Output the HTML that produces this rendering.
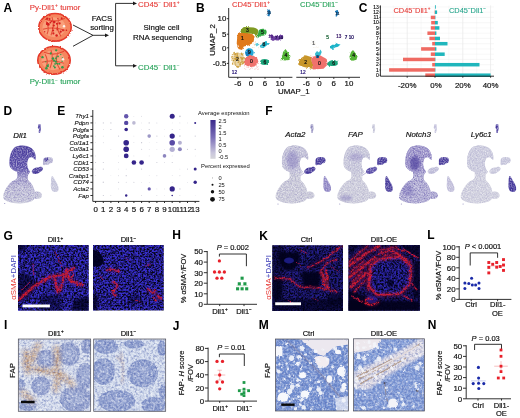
<!DOCTYPE html>
<html><head><meta charset="utf-8"><title>Figure</title>
<style>
html,body{margin:0;padding:0;background:#fff;}
body{width:520px;height:418px;overflow:hidden;}
svg{display:block;font-family:"Liberation Sans",Arial,sans-serif;}
.pl{font-weight:bold;font-size:12px;fill:#000}
.t7{font-size:7.9px;fill:#111;stroke:#111;stroke-width:.18px}
.t65{font-size:7.5px;fill:#111;stroke:#111;stroke-width:.18px}
.tt{font-size:7.5px;fill:#111;stroke:#111;stroke-width:.18px}
.it{font-style:italic}
.ax{stroke:#1a1a1a;stroke-width:.9;fill:none}
.sup{font-size:62%}
</style></head><body>
<svg width="520" height="418" viewBox="0 0 520 418">
<defs>
<filter id="fl" x="0" y="0" width="100%" height="100%" color-interpolation-filters="sRGB">
 <feTurbulence type="fractalNoise" baseFrequency="0.55" numOctaves="3" seed="3" result="n"/>
 <feColorMatrix in="n" type="matrix" values="0 0 0 0 0  0 0 0 0 0  2.6 0 0 0 -0.75  0 0 0 0 1" result="c"/>
 <feColorMatrix in="c" type="matrix" values="0 0 0.20 0 0.02  0 0 0.17 0 0.015  0 0 0.74 0 0.08  0 0 0 0 1"/>
</filter>
<filter id="fl2" x="0" y="0" width="100%" height="100%" color-interpolation-filters="sRGB">
 <feTurbulence type="fractalNoise" baseFrequency="0.57" numOctaves="3" seed="11" result="n"/>
 <feColorMatrix in="n" type="matrix" values="0 0 0 0 0  0 0 0 0 0  2.6 0 0 0 -0.75  0 0 0 0 1" result="c"/>
 <feColorMatrix in="c" type="matrix" values="0 0 0.20 0 0.02  0 0 0.17 0 0.015  0 0 0.74 0 0.08  0 0 0 0 1"/>
</filter>
<filter id="rag" x="-10%" y="-10%" width="120%" height="120%" color-interpolation-filters="sRGB">
 <feTurbulence type="fractalNoise" baseFrequency="0.3" numOctaves="2" seed="8" result="n"/>
 <feDisplacementMap in="SourceGraphic" in2="n" scale="3.5" xChannelSelector="R" yChannelSelector="G" result="d"/>
 <feTurbulence type="fractalNoise" baseFrequency="0.7" numOctaves="1" seed="2" result="n2"/>
 <feColorMatrix in="n2" type="matrix" values="0 0 0 0 1  0 0 0 0 1  0 0 0 0 1  3 0 0 0 -0.8" result="m"/>
 <feComposite in="d" in2="m" operator="in" result="dm"/>
 <feGaussianBlur in="dm" stdDeviation="0.5"/>
</filter>
<filter id="rough" x="-10%" y="-10%" width="120%" height="120%">
 <feTurbulence type="fractalNoise" baseFrequency="0.35" numOctaves="2" seed="4" result="n"/>
 <feDisplacementMap in="SourceGraphic" in2="n" scale="2.5" xChannelSelector="R" yChannelSelector="G"/>
</filter>
<filter id="b05"><feGaussianBlur stdDeviation="0.35"/></filter>
<filter id="b1"><feGaussianBlur stdDeviation="0.6"/></filter>
<filter id="b2"><feGaussianBlur stdDeviation="1.2"/></filter>
<filter id="b3"><feGaussianBlur stdDeviation="2.4"/></filter>
<filter id="ihc" x="0" y="0" width="100%" height="100%" color-interpolation-filters="sRGB">
 <feTurbulence type="fractalNoise" baseFrequency="0.45" numOctaves="3" seed="5" result="n"/>
 <feColorMatrix in="n" type="matrix" values="0 0 0 0 0.33  0 0 0 0 0.40  0 0 0 0 0.68  1.3 0 0 0 -0.5" result="dk"/>
 <feColorMatrix in="n" type="matrix" values="0 0 0 0 1  0 0 0 0 1  0 0 0 0 1  0 1.3 0 0 -0.52" result="lt"/>
 <feMerge><feMergeNode in="SourceGraphic"/><feMergeNode in="dk"/><feMergeNode in="lt"/></feMerge>
</filter>
<filter id="spk" x="-5%" y="-5%" width="110%" height="110%" color-interpolation-filters="sRGB">
 <feTurbulence type="fractalNoise" baseFrequency="0.8" numOctaves="2" seed="9" result="n"/>
 <feColorMatrix in="n" type="matrix" values="0 0 0 0 1  0 0 0 0 1  0 0 0 0 1  1.3 0 0 0 -0.52" result="w"/>
 <feComposite in="w" in2="SourceGraphic" operator="in" result="w2"/>
 <feMerge><feMergeNode in="SourceGraphic"/><feMergeNode in="w2"/></feMerge>
</filter>
<filter id="pspk" x="-5%" y="-5%" width="110%" height="110%" color-interpolation-filters="sRGB">
 <feTurbulence type="fractalNoise" baseFrequency="0.7" numOctaves="2" seed="21" result="n"/>
 <feColorMatrix in="n" type="matrix" values="0 0 0 0 0.30  0 0 0 0 0.24  0 0 0 0 0.62  3.2 0 0 0 -1.45" result="p"/>
 <feComposite in="p" in2="SourceGraphic" operator="in"/>
</filter>
<path id="body" d="M9.7,166 C9,160 9.5,152 15,147 C19,144.8 27,144.8 31.2,148 C34.5,150.5 36.5,155 35.5,160 L32.5,157.5 C30.5,156.5 28.3,157.5 27.7,160.5 C26.5,164 27.5,169 30.2,171.7 L28,175 L28,180 C30,182 32,184 32.5,185.5 C34,188 34.5,190 34.7,192 C38,190.8 42,192.5 42,195.4 C42,198 39,199.5 34.5,198.6 C33,201 31,201.6 30,201.8 C27,203.2 22,203.6 19.4,203.5 C15,203.5 11,203 8.6,201.8 C5,200.5 3.2,199 3.2,197.5 C3,195 3.5,193.5 4.3,192 C5.5,189 7.5,186 9.7,183.5 C11.5,181.5 13.5,180.5 15,179.9 C16.5,179 17.2,178 17.2,177 L17.2,171.7 C15,171.5 11,169.5 9.7,166 Z"/>
<path id="topc" d="M38.3,124.5 L40.6,124.3 L41,129 L40,133 L38.6,132.5 L39,129 L37.8,128 Z"/>
<path id="rc1" d="M43,160 C44,157 47,156.5 49,157.5 C51,156.5 53.5,158 53,161 C52.5,163 51,163.5 50,163 C49,165 47,165 45.5,164.5 C44,166 42.5,165 43,163 Z"/>
<path id="rc2" d="M32,170.5 C33.5,168 36,167 38,167.5 C40,166 42.5,166.5 43,168.5 C43,170.5 41,171.5 40,172 C38.5,174 35,174.5 33,173.5 C32,173 31.5,171.5 32,170.5Z"/>
<path id="rc3" d="M52,176 C53,175.5 54,178.5 55.5,181 C57.5,184 59,187 58.5,189.8 C58,192 55,192.5 53,191.5 C51,190 50.5,186 51,183 C51,180 51,177 52,176Z"/>
<clipPath id="cbody"><use href="#body"/></clipPath>
<linearGradient id="gD" x1="0" y1="146" x2="0" y2="203" gradientUnits="userSpaceOnUse">
 <stop offset="0" stop-color="#4b3e9c"/><stop offset="0.38" stop-color="#5a4ea8"/><stop offset="0.58" stop-color="#a29dca"/><stop offset="0.75" stop-color="#c2c1d8"/><stop offset="1" stop-color="#c8c8da"/>
</linearGradient>
<linearGradient id="gbar" x1="0" y1="0" x2="0" y2="1">
 <stop offset="0" stop-color="#3b2a8c"/><stop offset="0.45" stop-color="#7b6fb8"/><stop offset="0.85" stop-color="#c9c6dc"/><stop offset="1" stop-color="#d6d6da"/>
</linearGradient>
</defs>
<rect width="520" height="418" fill="#fff"/>

<g id="panelA">
<text class="pl" x="3.5" y="11.6">A</text>
<text x="55" y="9.8" text-anchor="middle" font-size="7.9" fill="#e63a36" stroke="#e63a36" stroke-width=".12">Py-Dll1<tspan class="sup" dy="-2.8">+</tspan><tspan dy="2.8"> tumor</tspan></text>
<text x="55" y="84.3" text-anchor="middle" font-size="7.9" fill="#27a35a" stroke="#27a35a" stroke-width=".12">Py-Dll1<tspan class="sup" dy="-2.8">−</tspan><tspan dy="2.8"> tumor</tspan></text>
<g filter="url(#rough)"><ellipse cx="55" cy="27.3" rx="16.2" ry="13.8" fill="#f5865e" stroke="#e53a2c" stroke-width="1.6"/></g>
<ellipse cx="54" cy="27.3" rx="11.5" ry="10" fill="#f9a884" opacity=".75"/>
<path d="M46,21.3 q4,6 1,13 M52,17.3 q3,8 -1,18 M59,19.3 q-4,9 2,17 M43,29.3 q10,-3 22,1 M45,19.3 q10,4 20,-1" stroke="#e2402c" stroke-width="1.1" fill="none" opacity=".85"/>
<circle cx="53.1" cy="30.5" r="1.06" fill="#d6201e"/>
<circle cx="63.0" cy="30.6" r="0.86" fill="#d6201e"/>
<circle cx="63.1" cy="29.9" r="0.63" fill="#d6201e"/>
<circle cx="52.6" cy="28.2" r="0.66" fill="#d6201e"/>
<circle cx="44.7" cy="31.8" r="0.69" fill="#d6201e"/>
<circle cx="56.6" cy="35.5" r="1.26" fill="#d6201e"/>
<circle cx="48.4" cy="24.4" r="1.28" fill="#d6201e"/>
<circle cx="66.4" cy="30.2" r="0.80" fill="#d6201e"/>
<circle cx="57.2" cy="29.7" r="0.82" fill="#d6201e"/>
<circle cx="56.9" cy="23.7" r="1.01" fill="#d6201e"/>
<circle cx="50.4" cy="22.6" r="0.98" fill="#d6201e"/>
<circle cx="57.2" cy="28.1" r="0.74" fill="#d6201e"/>
<circle cx="51.7" cy="21.3" r="0.82" fill="#d6201e"/>
<circle cx="48.1" cy="23.8" r="0.81" fill="#d6201e"/>
<circle cx="57.9" cy="18.8" r="0.77" fill="#d6201e"/>
<circle cx="47.1" cy="23.9" r="1.21" fill="#d6201e"/>
<circle cx="54.2" cy="22.1" r="1.29" fill="#d6201e"/>
<circle cx="60.7" cy="31.7" r="1.13" fill="#d6201e"/>
<circle cx="59.9" cy="33.1" r="0.63" fill="#d6201e"/>
<circle cx="49.6" cy="19.1" r="1.00" fill="#d6201e"/>
<circle cx="59.6" cy="23.4" r="1.09" fill="#d6201e"/>
<circle cx="47.2" cy="22.9" r="0.92" fill="#d6201e"/>
<circle cx="61.7" cy="18.3" r="0.93" fill="#d6201e"/>
<circle cx="53.8" cy="25.5" r="1.09" fill="#d6201e"/>
<circle cx="47.2" cy="18.6" r="1.18" fill="#d6201e"/>
<circle cx="53.4" cy="33.4" r="1.07" fill="#d6201e"/>
<circle cx="64" cy="26.3" r="1.2" fill="#fff" opacity=".85"/>
<g filter="url(#rough)"><ellipse cx="54" cy="60.3" rx="16.2" ry="13.8" fill="#f5865e" stroke="#e53a2c" stroke-width="1.6"/></g>
<ellipse cx="53" cy="60.3" rx="11.5" ry="10" fill="#f9a884" opacity=".75"/>
<path d="M45,54.3 q4,6 1,13 M51,50.3 q3,8 -1,18 M58,52.3 q-4,9 2,17 M42,62.3 q10,-3 22,1 M44,52.3 q10,4 20,-1" stroke="#e2402c" stroke-width="1.1" fill="none" opacity=".85"/>
<circle cx="62.1" cy="61.3" r="0.72" fill="#2f9a4a"/>
<circle cx="55.8" cy="61.7" r="1.14" fill="#2f9a4a"/>
<circle cx="57.9" cy="63.8" r="0.87" fill="#2f9a4a"/>
<circle cx="56.0" cy="58.5" r="0.91" fill="#2f9a4a"/>
<circle cx="42.5" cy="57.2" r="1.17" fill="#2f9a4a"/>
<circle cx="58.0" cy="56.4" r="0.89" fill="#2f9a4a"/>
<circle cx="46.4" cy="68.2" r="1.27" fill="#2f9a4a"/>
<circle cx="56.7" cy="63.5" r="0.76" fill="#2f9a4a"/>
<circle cx="54.9" cy="67.4" r="1.01" fill="#2f9a4a"/>
<circle cx="54.0" cy="60.7" r="0.89" fill="#2f9a4a"/>
<circle cx="47.7" cy="66.0" r="1.27" fill="#2f9a4a"/>
<circle cx="50.8" cy="53.4" r="1.03" fill="#2f9a4a"/>
<circle cx="53.0" cy="58.6" r="1.23" fill="#2f9a4a"/>
<circle cx="56.2" cy="50.3" r="1.16" fill="#2f9a4a"/>
<circle cx="48.2" cy="64.3" r="0.67" fill="#2f9a4a"/>
<circle cx="52.4" cy="58.7" r="0.65" fill="#2f9a4a"/>
<circle cx="55.1" cy="63.9" r="0.84" fill="#2f9a4a"/>
<circle cx="54.1" cy="60.3" r="0.71" fill="#2f9a4a"/>
<circle cx="59.7" cy="63.9" r="0.62" fill="#2f9a4a"/>
<circle cx="60.8" cy="54.5" r="0.70" fill="#2f9a4a"/>
<circle cx="53.9" cy="66.1" r="0.85" fill="#2f9a4a"/>
<circle cx="62.4" cy="67.3" r="1.30" fill="#2f9a4a"/>
<circle cx="45.8" cy="61.8" r="0.66" fill="#2f9a4a"/>
<circle cx="59.5" cy="63.8" r="0.79" fill="#2f9a4a"/>
<circle cx="56.1" cy="57.1" r="0.62" fill="#2f9a4a"/>
<circle cx="62.4" cy="58.0" r="0.70" fill="#2f9a4a"/>
<circle cx="63" cy="59.3" r="1.2" fill="#fff" opacity=".85"/>
<path d="M73,25 L93,35.3 L73,46.3 M93,35.3 L106,35.3" class="ax" stroke-width=".95"/>
<path d="M109,35.3 l-4,-1.9 v3.8z" fill="#1a1a1a"/>
<text class="t7" x="102" y="20.8" text-anchor="middle">FACS</text>
<text class="t7" x="102" y="29.6" text-anchor="middle">sorting</text>
<path d="M134,3.4 H115.6 V65.8 H134" class="ax" stroke-width=".95"/>
<path d="M137,3.4 l-4,-1.9 v3.8z M137,65.8 l-4,-1.9 v3.8z" fill="#1a1a1a"/>
<text x="138" y="7.2" font-size="7.9" fill="#e63a36" stroke="#e63a36" stroke-width=".12">CD45<tspan class="sup" dy="-2.8">−</tspan><tspan dy="2.8"> Dll1</tspan><tspan class="sup" dy="-2.8">+</tspan></text>
<text x="138" y="69.6" font-size="7.9" fill="#27a35a" stroke="#27a35a" stroke-width=".12">CD45<tspan class="sup" dy="-2.8">−</tspan><tspan dy="2.8"> Dll1</tspan><tspan class="sup" dy="-2.8">−</tspan></text>
<text class="t7" x="161.5" y="29.8" text-anchor="middle">Single cell</text>
<text class="t7" x="162.5" y="40.4" text-anchor="middle">RNA sequencing</text>
</g>
<g id="panelB">
<text class="pl" x="196" y="11.6">B</text>
<text x="232" y="6.8" font-size="7.6" fill="#e63a36" stroke="#e63a36" stroke-width=".12">CD45<tspan class="sup" dy="-2.8">−</tspan><tspan dy="2.8">Dll1</tspan><tspan class="sup" dy="-2.8">+</tspan></text>
<text x="300" y="6.8" font-size="7.6" fill="#27a35a" stroke="#27a35a" stroke-width=".12">CD45<tspan class="sup" dy="-2.8">−</tspan><tspan dy="2.8">Dll1</tspan><tspan class="sup" dy="-2.8">−</tspan></text>
<text class="t7" transform="translate(215.2,40) rotate(-90)" text-anchor="middle">UMAP_2</text>
<path d="M228.7,8 V77.3 H292.4 M296.3,77.3 H360" class="ax"/>
<text class="t7" x="226.3" y="21.4" text-anchor="end">10</text>
<path d="M226.9,18.7 h1.8" class="ax" stroke-width=".6"/>
<text class="t7" x="226.3" y="36.900000000000006" text-anchor="end">5</text>
<path d="M226.9,34.2 h1.8" class="ax" stroke-width=".6"/>
<text class="t7" x="226.3" y="50.5" text-anchor="end">0</text>
<path d="M226.9,47.8 h1.8" class="ax" stroke-width=".6"/>
<text class="t7" x="226.3" y="66.1" text-anchor="end">-0.5</text>
<path d="M226.9,63.4 h1.8" class="ax" stroke-width=".6"/>
<text class="t7" x="237.8" y="86.3" text-anchor="middle">-6</text>
<path d="M237.8,77.3 v1.6" class="ax" stroke-width=".55"/>
<text class="t7" x="251" y="86.3" text-anchor="middle">0</text>
<path d="M251,77.3 v1.6" class="ax" stroke-width=".55"/>
<text class="t7" x="265" y="86.3" text-anchor="middle">6</text>
<path d="M265,77.3 v1.6" class="ax" stroke-width=".55"/>
<text class="t7" x="280" y="86.3" text-anchor="middle">10</text>
<path d="M280,77.3 v1.6" class="ax" stroke-width=".55"/>
<text class="t7" x="306.3" y="86.3" text-anchor="middle">-6</text>
<path d="M306.3,77.3 v1.6" class="ax" stroke-width=".55"/>
<text class="t7" x="319.5" y="86.3" text-anchor="middle">0</text>
<path d="M319.5,77.3 v1.6" class="ax" stroke-width=".55"/>
<text class="t7" x="333.8" y="86.3" text-anchor="middle">6</text>
<path d="M333.8,77.3 v1.6" class="ax" stroke-width=".55"/>
<text class="t7" x="349" y="86.3" text-anchor="middle">10</text>
<path d="M349,77.3 v1.6" class="ax" stroke-width=".55"/>
<text class="t7" x="293.8" y="93.9" text-anchor="middle">UMAP_1</text>
<g filter="url(#rough)">
<path d="M237.9,33.7 L241.2,32 L252,33.7 L254.6,36.4 L253.7,41 L252,43.6 L248.3,45.4 L243.8,46.6 L242,50 L238.5,49 L236.7,43.6 L237.2,37.3Z" fill="#e07a1c"/>
<path d="M240.3,32 C241,29 243,27 244.7,27 L253.7,27.4 C256,28 258,29 258.2,30.5 C258,33 257.5,36 256.5,38 L254.5,34 L250,33.6 L241,32.8Z" fill="#7f9a22"/>
<path d="M258.5,31 C259.5,28.5 264,28 266,30 C267.5,32 266.5,35 264,35.5 C262,36 260.5,35.5 259.5,36.5 L257.5,38.5 L257.8,35Z" fill="#33a843"/>
<path d="M269,35 L272,34.3 L274,36.5 L277,35.5 L279,36.5 L281,35.2 L283.3,36.5 L283,39 L280,39.5 L278,40.8 L275,40 L273,41 L270.5,39.5 L271,37.5Z" fill="#6d3fa0"/>
<path d="M260,45.5 L263,43.5 L265,41.5 L266.8,41 L267,43 L269,43.5 L266,46 L263.5,48 L260.3,47.6Z" fill="#1fb3c9"/>
<path d="M283,52 L285.5,49 L288,52.5 L290.5,56 L289,60 L285,60.6 L282,60 L280.8,57 L282.5,55Z" fill="#55b536"/>
<path d="M267.3,10 l2.4,-.5 1,3.3 -1.4,3.6 -2,-.6 1,-3z" fill="#1f79b8"/>
<ellipse cx="249.4" cy="52.6" rx="4.3" ry="4.4" fill="#22a6d8"/>
<path d="M245.5,52 l3,-3.5 2,1 -1.5,6 -3,.5z" fill="#1d7ec0"/>
<ellipse cx="251" cy="61.3" rx="7.2" ry="5.7" fill="#f0716c"/>
<ellipse cx="264.6" cy="62" rx="4.5" ry="3" fill="#1ea57c"/>
<path d="M255,44 l3,-1.5 1.5,2 -3,2z" fill="#1fb3c9" opacity=".7"/>
</g>
<g filter="url(#rough)"><ellipse cx="238.3" cy="59.5" rx="6" ry="7" fill="#c8962a" opacity=".4"/></g>
<circle cx="243.8" cy="62.5" r="0.63" fill="#c8962a" opacity=".8"/>
<circle cx="232.7" cy="63.9" r="0.84" fill="#c8962a" opacity=".8"/>
<circle cx="235.3" cy="54.0" r="0.94" fill="#c8962a" opacity=".8"/>
<circle cx="243.1" cy="63.3" r="0.71" fill="#c8962a" opacity=".8"/>
<circle cx="233.5" cy="54.1" r="0.55" fill="#c8962a" opacity=".8"/>
<circle cx="240.0" cy="66.2" r="0.69" fill="#c8962a" opacity=".8"/>
<circle cx="240.4" cy="64.4" r="0.78" fill="#c8962a" opacity=".8"/>
<circle cx="242.0" cy="58.6" r="0.84" fill="#c8962a" opacity=".8"/>
<circle cx="241.6" cy="53.1" r="0.53" fill="#c8962a" opacity=".8"/>
<circle cx="235.6" cy="59.9" r="0.46" fill="#c8962a" opacity=".8"/>
<circle cx="238.4" cy="66.8" r="0.89" fill="#c8962a" opacity=".8"/>
<circle cx="243.2" cy="53.8" r="0.60" fill="#c8962a" opacity=".8"/>
<circle cx="233.8" cy="60.6" r="0.66" fill="#c8962a" opacity=".8"/>
<circle cx="235.7" cy="58.2" r="0.90" fill="#c8962a" opacity=".8"/>
<circle cx="236.7" cy="66.5" r="0.72" fill="#c8962a" opacity=".8"/>
<circle cx="237.0" cy="53.3" r="0.85" fill="#c8962a" opacity=".8"/>
<circle cx="232.8" cy="58.5" r="0.73" fill="#c8962a" opacity=".8"/>
<circle cx="235.2" cy="59.3" r="0.84" fill="#c8962a" opacity=".8"/>
<circle cx="231.7" cy="60.1" r="0.59" fill="#c8962a" opacity=".8"/>
<circle cx="242.4" cy="59.1" r="0.83" fill="#c8962a" opacity=".8"/>
<circle cx="244.6" cy="58.0" r="0.70" fill="#c8962a" opacity=".8"/>
<circle cx="238.2" cy="62.5" r="0.72" fill="#c8962a" opacity=".8"/>
<circle cx="237.6" cy="66.9" r="0.89" fill="#c8962a" opacity=".8"/>
<circle cx="231.9" cy="58.0" r="0.57" fill="#c8962a" opacity=".8"/>
<circle cx="232.5" cy="62.9" r="0.52" fill="#c8962a" opacity=".8"/>
<circle cx="236.9" cy="59.3" r="0.55" fill="#c8962a" opacity=".8"/>
<circle cx="235.1" cy="63.0" r="0.73" fill="#c8962a" opacity=".8"/>
<circle cx="235.3" cy="61.2" r="0.48" fill="#c8962a" opacity=".8"/>
<circle cx="242.5" cy="54.9" r="0.66" fill="#c8962a" opacity=".8"/>
<circle cx="239.1" cy="62.6" r="0.48" fill="#c8962a" opacity=".8"/>
<circle cx="241.0" cy="57.7" r="0.92" fill="#c8962a" opacity=".8"/>
<circle cx="240.2" cy="64.4" r="0.88" fill="#c8962a" opacity=".8"/>
<circle cx="237.3" cy="56.1" r="0.91" fill="#c8962a" opacity=".8"/>
<circle cx="234.3" cy="52.3" r="0.57" fill="#c8962a" opacity=".8"/>
<circle cx="235.0" cy="55.5" r="0.59" fill="#c8962a" opacity=".8"/>
<circle cx="238.0" cy="53.2" r="0.46" fill="#c8962a" opacity=".8"/>
<circle cx="241.7" cy="59.9" r="0.69" fill="#c8962a" opacity=".8"/>
<circle cx="243.1" cy="57.8" r="0.87" fill="#c8962a" opacity=".8"/>
<circle cx="236.3" cy="59.1" r="0.94" fill="#c8962a" opacity=".8"/>
<circle cx="235.5" cy="65.0" r="0.77" fill="#c8962a" opacity=".8"/>
<circle cx="236.5" cy="56.3" r="0.51" fill="#c8962a" opacity=".8"/>
<circle cx="234.1" cy="52.9" r="0.87" fill="#c8962a" opacity=".8"/>
<circle cx="243.9" cy="62.1" r="0.57" fill="#c8962a" opacity=".8"/>
<circle cx="234.7" cy="58.3" r="0.67" fill="#c8962a" opacity=".8"/>
<circle cx="235.0" cy="56.4" r="0.64" fill="#c8962a" opacity=".8"/>
<circle cx="237.6" cy="59.0" r="0.70" fill="#c8962a" opacity=".8"/>
<circle cx="231.4" cy="57.2" r="0.46" fill="#c8962a" opacity=".8"/>
<circle cx="234.9" cy="54.2" r="0.71" fill="#c8962a" opacity=".8"/>
<circle cx="242.0" cy="61.8" r="0.89" fill="#c8962a" opacity=".8"/>
<circle cx="232.4" cy="63.0" r="0.47" fill="#c8962a" opacity=".8"/>
<circle cx="240.0" cy="63.2" r="0.52" fill="#c8962a" opacity=".8"/>
<circle cx="238.4" cy="59.1" r="0.85" fill="#c8962a" opacity=".8"/>
<circle cx="240.9" cy="62.5" r="0.47" fill="#c8962a" opacity=".8"/>
<circle cx="232.1" cy="56.5" r="0.87" fill="#c8962a" opacity=".8"/>
<circle cx="238.9" cy="61.3" r="0.79" fill="#c8962a" opacity=".8"/>
<circle cx="242.8" cy="63.5" r="0.72" fill="#c8962a" opacity=".8"/>
<circle cx="241.8" cy="54.5" r="0.58" fill="#c8962a" opacity=".8"/>
<circle cx="241.7" cy="53.7" r="0.94" fill="#c8962a" opacity=".8"/>
<circle cx="237.9" cy="56.9" r="0.79" fill="#c8962a" opacity=".8"/>
<circle cx="242.3" cy="61.1" r="0.49" fill="#c8962a" opacity=".8"/>
<circle cx="232.4" cy="54.6" r="0.60" fill="#c8962a" opacity=".8"/>
<circle cx="240.8" cy="62.5" r="0.60" fill="#c8962a" opacity=".8"/>
<circle cx="238.3" cy="58.4" r="0.51" fill="#c8962a" opacity=".8"/>
<circle cx="237.2" cy="54.8" r="0.92" fill="#c8962a" opacity=".8"/>
<circle cx="233.4" cy="60.5" r="0.71" fill="#c8962a" opacity=".8"/>
<circle cx="254.6" cy="66.4" r=".4" fill="#f0716c" opacity=".7"/>
<circle cx="257.5" cy="67.4" r=".4" fill="#f0716c" opacity=".7"/>
<circle cx="244.4" cy="65.5" r=".4" fill="#f0716c" opacity=".7"/>
<circle cx="251.4" cy="67.3" r=".4" fill="#f0716c" opacity=".7"/>
<circle cx="248.5" cy="66.1" r=".4" fill="#f0716c" opacity=".7"/>
<circle cx="249.2" cy="66.8" r=".4" fill="#f0716c" opacity=".7"/>
<circle cx="256.6" cy="65.5" r=".4" fill="#f0716c" opacity=".7"/>
<circle cx="255.3" cy="68.9" r=".4" fill="#f0716c" opacity=".7"/>
<circle cx="245.8" cy="69.2" r=".4" fill="#f0716c" opacity=".7"/>
<circle cx="254.7" cy="69.1" r=".4" fill="#f0716c" opacity=".7"/>
<circle cx="248.3" cy="67.0" r=".4" fill="#f0716c" opacity=".7"/>
<circle cx="249.9" cy="69.5" r=".4" fill="#f0716c" opacity=".7"/>
<circle cx="252.8" cy="66.9" r=".4" fill="#f0716c" opacity=".7"/>
<circle cx="250.4" cy="66.6" r=".4" fill="#f0716c" opacity=".7"/>
<circle cx="244.7" cy="65.9" r=".4" fill="#f0716c" opacity=".7"/>
<circle cx="256.5" cy="66.6" r=".4" fill="#f0716c" opacity=".7"/>
<circle cx="258.0" cy="66.5" r=".4" fill="#f0716c" opacity=".7"/>
<circle cx="248.0" cy="67.5" r=".4" fill="#f0716c" opacity=".7"/>
<circle cx="246.8" cy="67.0" r=".4" fill="#f0716c" opacity=".7"/>
<circle cx="258.3" cy="69.0" r=".4" fill="#f0716c" opacity=".7"/>
<circle cx="256.2" cy="68.0" r=".4" fill="#f0716c" opacity=".7"/>
<circle cx="257.7" cy="69.3" r=".4" fill="#f0716c" opacity=".7"/>
<circle cx="252.2" cy="68.4" r=".4" fill="#f0716c" opacity=".7"/>
<circle cx="244.7" cy="68.4" r=".4" fill="#f0716c" opacity=".7"/>
<circle cx="250.8" cy="68.5" r=".4" fill="#f0716c" opacity=".7"/>
<circle cx="253.7" cy="66.6" r=".4" fill="#f0716c" opacity=".7"/>
<circle cx="252.4" cy="47.4" r=".35" fill="#e07a1c" opacity=".6"/>
<circle cx="253.1" cy="43.8" r=".35" fill="#e07a1c" opacity=".6"/>
<circle cx="255.1" cy="42.4" r=".35" fill="#e07a1c" opacity=".6"/>
<circle cx="258.7" cy="47.8" r=".35" fill="#e07a1c" opacity=".6"/>
<circle cx="254.3" cy="45.2" r=".35" fill="#e07a1c" opacity=".6"/>
<circle cx="254.7" cy="44.5" r=".35" fill="#e07a1c" opacity=".6"/>
<circle cx="255.5" cy="41.3" r=".35" fill="#e07a1c" opacity=".6"/>
<circle cx="253.5" cy="41.7" r=".35" fill="#e07a1c" opacity=".6"/>
<circle cx="260.2" cy="44.0" r=".35" fill="#e07a1c" opacity=".6"/>
<circle cx="254.0" cy="47.3" r=".35" fill="#e07a1c" opacity=".6"/>
<circle cx="261.0" cy="43.6" r=".35" fill="#e07a1c" opacity=".6"/>
<circle cx="253.3" cy="41.5" r=".35" fill="#e07a1c" opacity=".6"/>
<circle cx="252.8" cy="42.7" r=".35" fill="#e07a1c" opacity=".6"/>
<circle cx="252.8" cy="41.9" r=".35" fill="#e07a1c" opacity=".6"/>
<circle cx="254.3" cy="44.6" r=".35" fill="#e07a1c" opacity=".6"/>
<circle cx="260.0" cy="46.0" r=".35" fill="#e07a1c" opacity=".6"/>
<text x="247.5" y="31.8" font-size="5.0" fill="#111" stroke="#111" stroke-width=".22" text-anchor="middle">3</text>
<text x="242.5" y="40.3" font-size="5.0" fill="#111" stroke="#111" stroke-width=".22" text-anchor="middle">1</text>
<text x="262.5" y="33.8" font-size="5.0" fill="#111" stroke="#111" stroke-width=".22" text-anchor="middle">5</text>
<text x="237.3" y="61.3" font-size="5.0" fill="#111" stroke="#111" stroke-width=".22" text-anchor="middle">2</text>
<text x="251.4" y="63" font-size="5.0" fill="#111" stroke="#111" stroke-width=".22" text-anchor="middle">0</text>
<text x="264.8" y="63.7" font-size="5.0" fill="#111" stroke="#111" stroke-width=".22" text-anchor="middle">6</text>
<text x="249.5" y="54.3" font-size="5.0" fill="#111" stroke="#111" stroke-width=".22" text-anchor="middle">9</text>
<text x="264" y="46.3" font-size="5.0" fill="#111" stroke="#111" stroke-width=".22" text-anchor="middle">8</text>
<text x="285.8" y="57" font-size="5.0" fill="#111" stroke="#111" stroke-width=".22" text-anchor="middle">4</text>
<text x="269" y="14" font-size="4.2" fill="#0d2a4a" stroke="#0d2a4a" stroke-width=".22" text-anchor="middle">11</text>
<text x="234.4" y="73.6" font-size="4.800000000000001" fill="#2a1a7a" stroke="#2a1a7a" stroke-width=".22" text-anchor="middle">12</text>
<text x="270.6" y="37.6" font-size="4.4" fill="#4a1a7a" stroke="#4a1a7a" stroke-width=".22" text-anchor="middle">13</text>
<text x="279" y="39.4" font-size="4.2" fill="#1a0a4a" stroke="#1a0a4a" stroke-width=".22" text-anchor="middle">7 10</text>
<g filter="url(#rough)">
<path d="M298.4,59.7 L305.6,55.3 L311.2,57 L312.9,68.9 L303.8,67 L298.4,65Z" fill="#c8962a"/>
<path d="M311,57 L320,55.3 L326.2,58.8 L328,64.2 L323.5,68.7 L312.8,69.6Z" fill="#f0716c"/>
<path d="M327,64 C328.5,61 332,59.5 335,60.2 C337.5,60.8 338.5,63 337.5,64.8 C336,66.3 332,66.3 330,65.8 C328.5,66 327.2,65.3 327,64Z" fill="#1ea57c"/>
<path d="M351,52 L353,50 L355,52.5 L357.6,56 L356.5,59.8 L353,60.8 L350,59.8 L349.5,56.5Z" fill="#55b536"/>
<path d="M330,46.5 L332.5,44.5 L334.5,45 L336.5,43 L338,44 L340.5,44.5 L338,46.8 L335,47.5 L333,49 L330.5,48.5Z" fill="#1fb3c9"/>
<path d="M315,53.5 L317,51 L319,52.5 L320.5,49.5 L321.7,52 L320.5,55 L318,56.8 L315.5,56Z" fill="#1fb3c9" opacity=".9"/>
<path d="M335.6,10.5 l2.2,-.4 .9,3 -1.3,3.6 -1.9,-.5 .9,-3z" fill="#1f79b8"/>
</g>
<path d="M316.2,55.5 h2.6 v2.6 h-2.6z" fill="#1d7ec0"/>
<circle cx="314.7" cy="43.3" r=".3" fill="#d9c9a0" opacity=".8"/>
<circle cx="315.7" cy="43.0" r=".3" fill="#d9c9a0" opacity=".8"/>
<circle cx="314.0" cy="40.5" r=".3" fill="#d9c9a0" opacity=".8"/>
<circle cx="313.5" cy="47.7" r=".3" fill="#d9c9a0" opacity=".8"/>
<circle cx="312.1" cy="44.0" r=".3" fill="#d9c9a0" opacity=".8"/>
<circle cx="316.7" cy="46.9" r=".3" fill="#d9c9a0" opacity=".8"/>
<circle cx="312.9" cy="42.2" r=".3" fill="#d9c9a0" opacity=".8"/>
<circle cx="313.2" cy="43.2" r=".3" fill="#d9c9a0" opacity=".8"/>
<circle cx="315.0" cy="47.6" r=".3" fill="#d9c9a0" opacity=".8"/>
<circle cx="318.6" cy="47.0" r=".3" fill="#d9c9a0" opacity=".8"/>
<circle cx="311.2" cy="40.3" r=".3" fill="#d9c9a0" opacity=".8"/>
<circle cx="317.4" cy="47.2" r=".3" fill="#d9c9a0" opacity=".8"/>
<circle cx="315.3" cy="44.7" r=".3" fill="#d9c9a0" opacity=".8"/>
<circle cx="311.0" cy="43.1" r=".3" fill="#d9c9a0" opacity=".8"/>
<text x="305.6" y="64.3" font-size="5.0" fill="#111" stroke="#111" stroke-width=".22" text-anchor="middle">2</text>
<text x="319.5" y="65" font-size="5.0" fill="#111" stroke="#111" stroke-width=".22" text-anchor="middle">0</text>
<text x="333.6" y="64.6" font-size="5.0" fill="#111" stroke="#111" stroke-width=".22" text-anchor="middle">6</text>
<text x="353.6" y="57.3" font-size="5.0" fill="#111" stroke="#111" stroke-width=".22" text-anchor="middle">4</text>
<text x="313.6" y="45.3" font-size="5.0" fill="#555" stroke="#555" stroke-width=".22" text-anchor="middle">1</text>
<text x="327.5" y="38.6" font-size="4.800000000000001" fill="#0d5a2a" stroke="#0d5a2a" stroke-width=".22" text-anchor="middle">5</text>
<text x="338.8" y="37.6" font-size="4.6000000000000005" fill="#3a1a6a" stroke="#3a1a6a" stroke-width=".22" text-anchor="middle">13</text>
<text x="349.3" y="39.3" font-size="4.6000000000000005" fill="#1a0a5a" stroke="#1a0a5a" stroke-width=".22" text-anchor="middle">7 10</text>
<text x="303" y="73.6" font-size="4.800000000000001" fill="#2a1a7a" stroke="#2a1a7a" stroke-width=".22" text-anchor="middle">12</text>
<text x="317.6" y="58.3" font-size="3.8" fill="#0d2a4a" stroke="#0d2a4a" stroke-width=".22" text-anchor="middle">9</text>
<text x="337.3" y="15" font-size="4.0" fill="#0d2a4a" stroke="#0d2a4a" stroke-width=".22" text-anchor="middle">11</text>
</g>
<g id="panelC">
<text class="pl" x="358.8" y="11.6">C</text>
<path d="M407.2,5.4 V76.2" stroke="#e2e2e2" stroke-width=".6"/>
<path d="M435,5.4 V76.2" stroke="#e2e2e2" stroke-width=".6"/>
<path d="M462.8,5.4 V76.2" stroke="#e2e2e2" stroke-width=".6"/>
<path d="M490.6,5.4 V76.2" stroke="#e2e2e2" stroke-width=".6"/>
<path d="M393.3,5.4 V76.2" stroke="#efefef" stroke-width=".4"/>
<path d="M421.1,5.4 V76.2" stroke="#efefef" stroke-width=".4"/>
<path d="M448.9,5.4 V76.2" stroke="#efefef" stroke-width=".4"/>
<path d="M476.7,5.4 V76.2" stroke="#efefef" stroke-width=".4"/>
<path d="M380.4,75.20 H494" stroke="#eaeaea" stroke-width=".4"/>
<path d="M380.4,69.95 H494" stroke="#eaeaea" stroke-width=".4"/>
<path d="M380.4,64.70 H494" stroke="#eaeaea" stroke-width=".4"/>
<path d="M380.4,59.45 H494" stroke="#eaeaea" stroke-width=".4"/>
<path d="M380.4,54.20 H494" stroke="#eaeaea" stroke-width=".4"/>
<path d="M380.4,48.95 H494" stroke="#eaeaea" stroke-width=".4"/>
<path d="M380.4,43.70 H494" stroke="#eaeaea" stroke-width=".4"/>
<path d="M380.4,38.45 H494" stroke="#eaeaea" stroke-width=".4"/>
<path d="M380.4,33.20 H494" stroke="#eaeaea" stroke-width=".4"/>
<path d="M380.4,27.95 H494" stroke="#eaeaea" stroke-width=".4"/>
<path d="M380.4,22.70 H494" stroke="#eaeaea" stroke-width=".4"/>
<path d="M380.4,17.45 H494" stroke="#eaeaea" stroke-width=".4"/>
<path d="M380.4,12.20 H494" stroke="#eaeaea" stroke-width=".4"/>
<path d="M380.4,6.95 H494" stroke="#eaeaea" stroke-width=".4"/>
<rect x="425.3" y="73.45" width="9.7" height="3.5" fill="#ef6a62"/>
<rect x="435.0" y="73.45" width="55.6" height="3.5" fill="#1fb6bc"/>
<text x="378.8" y="76.95" font-size="5" fill="#111" stroke="#111" stroke-width=".15" text-anchor="end">0</text>
<path d="M379.5,75.20 h.9" class="ax" stroke-width=".4"/>
<rect x="389.1" y="68.20" width="45.9" height="3.5" fill="#ef6a62"/>
<rect x="435.0" y="68.20" width="0.4" height="3.5" fill="#1fb6bc"/>
<text x="378.8" y="71.70" font-size="5" fill="#111" stroke="#111" stroke-width=".15" text-anchor="end">1</text>
<path d="M379.5,69.95 h.9" class="ax" stroke-width=".4"/>
<rect x="432.2" y="62.95" width="2.8" height="3.5" fill="#ef6a62"/>
<rect x="435.0" y="62.95" width="44.5" height="3.5" fill="#1fb6bc"/>
<text x="378.8" y="66.45" font-size="5" fill="#111" stroke="#111" stroke-width=".15" text-anchor="end">2</text>
<path d="M379.5,64.70 h.9" class="ax" stroke-width=".4"/>
<rect x="403.0" y="57.70" width="32.0" height="3.5" fill="#ef6a62"/>
<rect x="435.0" y="57.70" width="0.4" height="3.5" fill="#1fb6bc"/>
<text x="378.8" y="61.20" font-size="5" fill="#111" stroke="#111" stroke-width=".15" text-anchor="end">3</text>
<path d="M379.5,59.45 h.9" class="ax" stroke-width=".4"/>
<rect x="430.8" y="52.45" width="4.2" height="3.5" fill="#ef6a62"/>
<rect x="435.0" y="52.45" width="9.7" height="3.5" fill="#1fb6bc"/>
<text x="378.8" y="55.95" font-size="5" fill="#111" stroke="#111" stroke-width=".15" text-anchor="end">4</text>
<path d="M379.5,54.20 h.9" class="ax" stroke-width=".4"/>
<rect x="421.1" y="47.20" width="13.9" height="3.5" fill="#ef6a62"/>
<rect x="435.0" y="47.20" width="1.4" height="3.5" fill="#1fb6bc"/>
<text x="378.8" y="50.70" font-size="5" fill="#111" stroke="#111" stroke-width=".15" text-anchor="end">5</text>
<path d="M379.5,48.95 h.9" class="ax" stroke-width=".4"/>
<rect x="432.2" y="41.95" width="2.8" height="3.5" fill="#ef6a62"/>
<rect x="435.0" y="41.95" width="12.5" height="3.5" fill="#1fb6bc"/>
<text x="378.8" y="45.45" font-size="5" fill="#111" stroke="#111" stroke-width=".15" text-anchor="end">6</text>
<path d="M379.5,43.70 h.9" class="ax" stroke-width=".4"/>
<rect x="429.4" y="36.70" width="5.6" height="3.5" fill="#ef6a62"/>
<rect x="435.0" y="36.70" width="5.0" height="3.5" fill="#1fb6bc"/>
<text x="378.8" y="40.20" font-size="5" fill="#111" stroke="#111" stroke-width=".15" text-anchor="end">7</text>
<path d="M379.5,38.45 h.9" class="ax" stroke-width=".4"/>
<rect x="427.4" y="31.45" width="7.6" height="3.5" fill="#ef6a62"/>
<rect x="435.0" y="31.45" width="1.4" height="3.5" fill="#1fb6bc"/>
<text x="378.8" y="34.95" font-size="5" fill="#111" stroke="#111" stroke-width=".15" text-anchor="end">8</text>
<path d="M379.5,33.20 h.9" class="ax" stroke-width=".4"/>
<rect x="430.8" y="26.20" width="4.2" height="3.5" fill="#ef6a62"/>
<rect x="435.0" y="26.20" width="4.4" height="3.5" fill="#1fb6bc"/>
<text x="378.8" y="29.70" font-size="5" fill="#111" stroke="#111" stroke-width=".15" text-anchor="end">9</text>
<path d="M379.5,27.95 h.9" class="ax" stroke-width=".4"/>
<rect x="431.2" y="20.95" width="3.8" height="3.5" fill="#ef6a62"/>
<rect x="435.0" y="20.95" width="2.8" height="3.5" fill="#1fb6bc"/>
<text x="378.8" y="24.45" font-size="5" fill="#111" stroke="#111" stroke-width=".15" text-anchor="end">10</text>
<path d="M379.5,22.70 h.9" class="ax" stroke-width=".4"/>
<rect x="430.8" y="15.70" width="4.2" height="3.5" fill="#ef6a62"/>
<rect x="435.0" y="15.70" width="0.4" height="3.5" fill="#1fb6bc"/>
<text x="378.8" y="19.20" font-size="5" fill="#111" stroke="#111" stroke-width=".15" text-anchor="end">11</text>
<path d="M379.5,17.45 h.9" class="ax" stroke-width=".4"/>
<rect x="434.6" y="10.45" width="0.4" height="3.5" fill="#ef6a62"/>
<rect x="435.0" y="10.45" width="2.1" height="3.5" fill="#1fb6bc"/>
<text x="378.8" y="13.95" font-size="5" fill="#111" stroke="#111" stroke-width=".15" text-anchor="end">12</text>
<path d="M379.5,12.20 h.9" class="ax" stroke-width=".4"/>
<rect x="435.0" y="5.20" width="0.8" height="3.5" fill="#1fb6bc"/>
<text x="378.8" y="8.70" font-size="5" fill="#111" stroke="#111" stroke-width=".15" text-anchor="end">13</text>
<path d="M379.5,6.95 h.9" class="ax" stroke-width=".4"/>
<path d="M380.4,5.4 V76.2 H494" class="ax"/>
<text class="t7" x="407.2" y="87.8" text-anchor="middle">-20%</text>
<path d="M407.2,76.2 v1.5" class="ax" stroke-width=".55"/>
<text class="t7" x="436" y="87.8" text-anchor="middle">0%</text>
<path d="M435,76.2 v1.5" class="ax" stroke-width=".55"/>
<text class="t7" x="462.8" y="87.8" text-anchor="middle">20%</text>
<path d="M462.8,76.2 v1.5" class="ax" stroke-width=".55"/>
<text class="t7" x="490.6" y="87.8" text-anchor="middle">40%</text>
<path d="M490.6,76.2 v1.5" class="ax" stroke-width=".55"/>
<text x="393.5" y="12.6" font-size="7.4" fill="#e63a36" stroke="#e63a36" stroke-width=".1">CD45<tspan class="sup" dy="-2.8">−</tspan><tspan dy="2.8">Dll1</tspan><tspan class="sup" dy="-2.8">+</tspan></text>
<text x="449" y="12.6" font-size="7.4" fill="#25a58c" stroke="#25a58c" stroke-width=".1">CD45<tspan class="sup" dy="-2.8">−</tspan><tspan dy="2.8">Dll1</tspan><tspan class="sup" dy="-2.8">−</tspan></text>
</g>
<g id="panelD">
<text class="pl" x="3.5" y="115.2">D</text>
<text class="t7 it" x="13.3" y="137.8">Dll1</text>
<g filter="url(#spk)">
<use href="#body" fill="url(#gD)"/>
<use href="#topc" fill="#5a4ea8"/><use href="#rc1" fill="#b4b1d2"/><use href="#rc2" fill="#4b3e9c"/><use href="#rc3" fill="#c3c3da"/>
<path d="M44,158.5 l3.5,-1.2 1,3 -3.5,1.5z" fill="#4b3e9c"/>
</g>
<g filter="url(#pspk)" opacity=".35"><path d="M4,180 h34 v22 h-34z" clip-path="url(#cbody)" fill="#000"/></g>
<circle cx="4.7" cy="203.5" r=".6" fill="#9a96c4"/>
</g>
<g id="panelE">
<text class="pl" x="57.3" y="115.2">E</text>
<text class="it" x="89" y="118.4" font-size="6.2" fill="#111" stroke="#111" stroke-width=".1" text-anchor="end">Thy1</text>
<path d="M90.4,116.3 h2.4" class="ax" stroke-width=".55"/>
<text class="it" x="89" y="125.0" font-size="6.2" fill="#111" stroke="#111" stroke-width=".1" text-anchor="end">Pdpn</text>
<path d="M90.4,122.9 h2.4" class="ax" stroke-width=".55"/>
<text class="it" x="89" y="131.6" font-size="6.2" fill="#111" stroke="#111" stroke-width=".1" text-anchor="end">Pdgfa</text>
<path d="M90.4,129.5 h2.4" class="ax" stroke-width=".55"/>
<text class="it" x="89" y="138.2" font-size="6.2" fill="#111" stroke="#111" stroke-width=".1" text-anchor="end">Pdgfa</text>
<path d="M90.4,136.1 h2.4" class="ax" stroke-width=".55"/>
<text class="it" x="89" y="144.8" font-size="6.2" fill="#111" stroke="#111" stroke-width=".1" text-anchor="end">Col1a1</text>
<path d="M90.4,142.7 h2.4" class="ax" stroke-width=".55"/>
<text class="it" x="89" y="151.4" font-size="6.2" fill="#111" stroke="#111" stroke-width=".1" text-anchor="end">Col3a1</text>
<path d="M90.4,149.3 h2.4" class="ax" stroke-width=".55"/>
<text class="it" x="89" y="158.0" font-size="6.2" fill="#111" stroke="#111" stroke-width=".1" text-anchor="end">Ly6c1</text>
<path d="M90.4,155.9 h2.4" class="ax" stroke-width=".55"/>
<text class="it" x="89" y="164.6" font-size="6.2" fill="#111" stroke="#111" stroke-width=".1" text-anchor="end">CDk1</text>
<path d="M90.4,162.5 h2.4" class="ax" stroke-width=".55"/>
<text class="it" x="89" y="171.2" font-size="6.2" fill="#111" stroke="#111" stroke-width=".1" text-anchor="end">CD53</text>
<path d="M90.4,169.1 h2.4" class="ax" stroke-width=".55"/>
<text class="it" x="89" y="177.8" font-size="6.2" fill="#111" stroke="#111" stroke-width=".1" text-anchor="end">Crabp1</text>
<path d="M90.4,175.7 h2.4" class="ax" stroke-width=".55"/>
<text class="it" x="89" y="184.4" font-size="6.2" fill="#111" stroke="#111" stroke-width=".1" text-anchor="end">CD74</text>
<path d="M90.4,182.3 h2.4" class="ax" stroke-width=".55"/>
<text class="it" x="89" y="191.0" font-size="6.2" fill="#111" stroke="#111" stroke-width=".1" text-anchor="end">Acta2</text>
<path d="M90.4,188.9 h2.4" class="ax" stroke-width=".55"/>
<text class="it" x="89" y="197.6" font-size="6.2" fill="#111" stroke="#111" stroke-width=".1" text-anchor="end">Fap</text>
<path d="M90.4,195.5 h2.4" class="ax" stroke-width=".55"/>
<path d="M92.8,110 V201.4 H199.4" class="ax"/>
<path d="M95.6,201.4 v1.6" class="ax" stroke-width=".55"/>
<path d="M103.3,201.4 v1.6" class="ax" stroke-width=".55"/>
<path d="M110.9,201.4 v1.6" class="ax" stroke-width=".55"/>
<path d="M118.6,201.4 v1.6" class="ax" stroke-width=".55"/>
<path d="M126.2,201.4 v1.6" class="ax" stroke-width=".55"/>
<path d="M133.9,201.4 v1.6" class="ax" stroke-width=".55"/>
<path d="M141.6,201.4 v1.6" class="ax" stroke-width=".55"/>
<path d="M149.2,201.4 v1.6" class="ax" stroke-width=".55"/>
<path d="M156.9,201.4 v1.6" class="ax" stroke-width=".55"/>
<path d="M164.5,201.4 v1.6" class="ax" stroke-width=".55"/>
<path d="M172.2,201.4 v1.6" class="ax" stroke-width=".55"/>
<path d="M179.9,201.4 v1.6" class="ax" stroke-width=".55"/>
<path d="M187.5,201.4 v1.6" class="ax" stroke-width=".55"/>
<path d="M195.2,201.4 v1.6" class="ax" stroke-width=".55"/>
<text class="t7" x="95.6" y="211.9" text-anchor="middle">0</text>
<text class="t7" x="103.3" y="211.9" text-anchor="middle">1</text>
<text class="t7" x="110.9" y="211.9" text-anchor="middle">2</text>
<text class="t7" x="118.6" y="211.9" text-anchor="middle">3</text>
<text class="t7" x="126.2" y="211.9" text-anchor="middle">4</text>
<text class="t7" x="133.9" y="211.9" text-anchor="middle">5</text>
<text class="t7" x="141.6" y="211.9" text-anchor="middle">6</text>
<text class="t7" x="149.2" y="211.9" text-anchor="middle">7</text>
<text class="t7" x="156.9" y="211.9" text-anchor="middle">8</text>
<text class="t7" x="164.5" y="211.9" text-anchor="middle">9</text>
<text class="t7" x="172.2" y="211.9" text-anchor="middle">10</text>
<text class="t7" x="179.9" y="211.9" text-anchor="middle">11</text>
<text class="t7" x="187.5" y="211.9" text-anchor="middle">12</text>
<text class="t7" x="195.2" y="211.9" text-anchor="middle">13</text>
<circle cx="133.9" cy="116.3" r="0.33" fill="#c4c4d0"/>
<circle cx="141.6" cy="116.3" r="0.46" fill="#c4c4d0"/>
<circle cx="95.6" cy="122.9" r="0.47" fill="#c4c4d0"/>
<circle cx="103.3" cy="122.9" r="0.53" fill="#c4c4d0"/>
<circle cx="110.9" cy="122.9" r="0.58" fill="#c4c4d0"/>
<circle cx="141.6" cy="122.9" r="0.34" fill="#c4c4d0"/>
<circle cx="156.9" cy="122.9" r="0.49" fill="#c4c4d0"/>
<circle cx="172.2" cy="122.9" r="0.32" fill="#c4c4d0"/>
<circle cx="179.9" cy="122.9" r="0.47" fill="#c4c4d0"/>
<circle cx="187.5" cy="122.9" r="0.37" fill="#c4c4d0"/>
<circle cx="103.3" cy="129.5" r="0.39" fill="#c4c4d0"/>
<circle cx="110.9" cy="129.5" r="0.59" fill="#c4c4d0"/>
<circle cx="141.6" cy="129.5" r="0.37" fill="#c4c4d0"/>
<circle cx="149.2" cy="129.5" r="0.59" fill="#c4c4d0"/>
<circle cx="164.5" cy="129.5" r="0.31" fill="#c4c4d0"/>
<circle cx="172.2" cy="129.5" r="0.50" fill="#c4c4d0"/>
<circle cx="179.9" cy="129.5" r="0.38" fill="#c4c4d0"/>
<circle cx="95.6" cy="136.1" r="0.31" fill="#c4c4d0"/>
<circle cx="103.3" cy="136.1" r="0.43" fill="#c4c4d0"/>
<circle cx="118.6" cy="136.1" r="0.54" fill="#c4c4d0"/>
<circle cx="133.9" cy="136.1" r="0.36" fill="#c4c4d0"/>
<circle cx="156.9" cy="136.1" r="0.55" fill="#c4c4d0"/>
<circle cx="164.5" cy="136.1" r="0.37" fill="#c4c4d0"/>
<circle cx="195.2" cy="136.1" r="0.59" fill="#c4c4d0"/>
<circle cx="95.6" cy="142.7" r="0.36" fill="#c4c4d0"/>
<circle cx="103.3" cy="142.7" r="0.43" fill="#c4c4d0"/>
<circle cx="133.9" cy="142.7" r="0.42" fill="#c4c4d0"/>
<circle cx="141.6" cy="142.7" r="0.59" fill="#c4c4d0"/>
<circle cx="149.2" cy="142.7" r="0.32" fill="#c4c4d0"/>
<circle cx="156.9" cy="142.7" r="0.42" fill="#c4c4d0"/>
<circle cx="110.9" cy="149.3" r="0.36" fill="#c4c4d0"/>
<circle cx="141.6" cy="149.3" r="0.50" fill="#c4c4d0"/>
<circle cx="149.2" cy="149.3" r="0.41" fill="#c4c4d0"/>
<circle cx="156.9" cy="149.3" r="0.35" fill="#c4c4d0"/>
<circle cx="164.5" cy="149.3" r="0.38" fill="#c4c4d0"/>
<circle cx="187.5" cy="149.3" r="0.59" fill="#c4c4d0"/>
<circle cx="195.2" cy="149.3" r="0.59" fill="#c4c4d0"/>
<circle cx="95.6" cy="155.9" r="0.41" fill="#c4c4d0"/>
<circle cx="118.6" cy="155.9" r="0.31" fill="#c4c4d0"/>
<circle cx="133.9" cy="155.9" r="0.41" fill="#c4c4d0"/>
<circle cx="149.2" cy="155.9" r="0.41" fill="#c4c4d0"/>
<circle cx="172.2" cy="155.9" r="0.42" fill="#c4c4d0"/>
<circle cx="195.2" cy="155.9" r="0.31" fill="#c4c4d0"/>
<circle cx="95.6" cy="162.5" r="0.58" fill="#c4c4d0"/>
<circle cx="103.3" cy="162.5" r="0.52" fill="#c4c4d0"/>
<circle cx="118.6" cy="162.5" r="0.38" fill="#c4c4d0"/>
<circle cx="156.9" cy="162.5" r="0.51" fill="#c4c4d0"/>
<circle cx="164.5" cy="162.5" r="0.38" fill="#c4c4d0"/>
<circle cx="172.2" cy="162.5" r="0.53" fill="#c4c4d0"/>
<circle cx="95.6" cy="169.1" r="0.37" fill="#c4c4d0"/>
<circle cx="103.3" cy="169.1" r="0.59" fill="#c4c4d0"/>
<circle cx="118.6" cy="169.1" r="0.38" fill="#c4c4d0"/>
<circle cx="126.2" cy="169.1" r="0.45" fill="#c4c4d0"/>
<circle cx="141.6" cy="169.1" r="0.54" fill="#c4c4d0"/>
<circle cx="179.9" cy="169.1" r="0.40" fill="#c4c4d0"/>
<circle cx="187.5" cy="169.1" r="0.53" fill="#c4c4d0"/>
<circle cx="95.6" cy="175.7" r="0.36" fill="#c4c4d0"/>
<circle cx="110.9" cy="175.7" r="0.32" fill="#c4c4d0"/>
<circle cx="118.6" cy="175.7" r="0.47" fill="#c4c4d0"/>
<circle cx="126.2" cy="175.7" r="0.59" fill="#c4c4d0"/>
<circle cx="149.2" cy="175.7" r="0.33" fill="#c4c4d0"/>
<circle cx="156.9" cy="175.7" r="0.45" fill="#c4c4d0"/>
<circle cx="172.2" cy="175.7" r="0.37" fill="#c4c4d0"/>
<circle cx="179.9" cy="175.7" r="0.49" fill="#c4c4d0"/>
<circle cx="118.6" cy="182.3" r="0.55" fill="#c4c4d0"/>
<circle cx="126.2" cy="182.3" r="0.47" fill="#c4c4d0"/>
<circle cx="133.9" cy="182.3" r="0.52" fill="#c4c4d0"/>
<circle cx="141.6" cy="182.3" r="0.37" fill="#c4c4d0"/>
<circle cx="149.2" cy="182.3" r="0.35" fill="#c4c4d0"/>
<circle cx="172.2" cy="182.3" r="0.42" fill="#c4c4d0"/>
<circle cx="187.5" cy="182.3" r="0.37" fill="#c4c4d0"/>
<circle cx="118.6" cy="188.9" r="0.44" fill="#c4c4d0"/>
<circle cx="156.9" cy="188.9" r="0.39" fill="#c4c4d0"/>
<circle cx="164.5" cy="188.9" r="0.36" fill="#c4c4d0"/>
<circle cx="103.3" cy="195.5" r="0.56" fill="#c4c4d0"/>
<circle cx="110.9" cy="195.5" r="0.38" fill="#c4c4d0"/>
<circle cx="141.6" cy="195.5" r="0.48" fill="#c4c4d0"/>
<circle cx="156.9" cy="195.5" r="0.41" fill="#c4c4d0"/>
<circle cx="164.5" cy="195.5" r="0.36" fill="#c4c4d0"/>
<circle cx="179.9" cy="195.5" r="0.48" fill="#c4c4d0"/>
<circle cx="195.2" cy="195.5" r="0.30" fill="#c4c4d0"/>
<circle cx="126.2" cy="116.3" r="2.2" fill="#6456ad"/>
<circle cx="172.2" cy="116.3" r="2.5" fill="#35258a"/>
<circle cx="179.9" cy="116.3" r="0.9" fill="#cfcfd8"/>
<circle cx="126.2" cy="122.9" r="2.2" fill="#5446a2"/>
<circle cx="133.9" cy="122.9" r="1.8" fill="#bdbad4"/>
<circle cx="149.2" cy="122.9" r="0.7" fill="#cfcfd8"/>
<circle cx="195.2" cy="122.9" r="1.0" fill="#35258a"/>
<circle cx="126.2" cy="129.5" r="1.8" fill="#35258a"/>
<circle cx="149.2" cy="136.1" r="1.8" fill="#9d98c6"/>
<circle cx="172.2" cy="136.1" r="2.6" fill="#35258a"/>
<circle cx="179.9" cy="136.1" r="0.8" fill="#cfcfd8"/>
<circle cx="126.2" cy="142.7" r="2.8" fill="#35258a"/>
<circle cx="172.2" cy="142.7" r="2.8" fill="#5a4ca6"/>
<circle cx="179.9" cy="142.7" r="2.0" fill="#b5b1d2"/>
<circle cx="126.2" cy="149.3" r="2.8" fill="#35258a"/>
<circle cx="172.2" cy="149.3" r="2.6" fill="#b3afd3"/>
<circle cx="179.9" cy="149.3" r="2.0" fill="#8d86bf"/>
<circle cx="126.2" cy="155.9" r="2.4" fill="#35258a"/>
<circle cx="164.5" cy="155.9" r="1.8" fill="#8d86bf"/>
<circle cx="133.9" cy="162.5" r="2.3" fill="#35258a"/>
<circle cx="141.6" cy="162.5" r="2.3" fill="#35258a"/>
<circle cx="195.2" cy="169.1" r="1.5" fill="#35258a"/>
<circle cx="195.2" cy="182.3" r="1.7" fill="#35258a"/>
<circle cx="103.3" cy="182.3" r="0.7" fill="#cfcfd8"/>
<circle cx="149.2" cy="188.9" r="1.6" fill="#6456ad"/>
<circle cx="172.2" cy="188.9" r="2.6" fill="#35258a"/>
<circle cx="179.9" cy="188.9" r="0.7" fill="#cfcfd8"/>
<circle cx="126.2" cy="195.5" r="1.2" fill="#35258a"/>
<circle cx="172.2" cy="195.5" r="0.8" fill="#35258a"/>
<text x="198" y="114.9" font-size="5.85" fill="#111">Average expression</text>
<rect x="210.4" y="120" width="5.2" height="38.8" fill="url(#gbar)"/>
<text x="218.4" y="122.8" font-size="5.7" fill="#111">2.5</text>
<text x="218.4" y="128.8" font-size="5.7" fill="#111">2</text>
<text x="218.4" y="134.9" font-size="5.7" fill="#111">1.5</text>
<text x="218.4" y="140.9" font-size="5.7" fill="#111">1</text>
<text x="218.4" y="146.9" font-size="5.7" fill="#111">0.5</text>
<text x="218.4" y="152.9" font-size="5.7" fill="#111">0</text>
<text x="218.4" y="159.0" font-size="5.7" fill="#111">-0.5</text>
<text x="201" y="167.8" font-size="5.85" fill="#111">Percent expressed</text>
<circle cx="212.5" cy="177.9" r="0.35" fill="#111"/>
<text x="218.4" y="179.9" font-size="5.7" fill="#111">0</text>
<circle cx="212.5" cy="184.8" r="1.0" fill="#111"/>
<text x="218.4" y="186.8" font-size="5.7" fill="#111">25</text>
<circle cx="212.5" cy="191.7" r="1.7" fill="#111"/>
<text x="218.4" y="193.7" font-size="5.7" fill="#111">50</text>
<circle cx="212.5" cy="199.3" r="2.4" fill="#111"/>
<text x="218.4" y="201.3" font-size="5.7" fill="#111">75</text>
</g>
<g id="panelF">
<text class="pl" x="265.2" y="115.2">F</text>
<text class="t7 it" x="295.4" y="137.3" text-anchor="middle">Acta2</text>
<g transform="translate(272.5,0)"><g filter="url(#spk)">
<use href="#body" fill="#cacad8"/>
<g clip-path="url(#cbody)"><rect x="0" y="140" width="60" height="33" fill="#c4c3d8"/></g>
<use href="#topc" fill="#8f8bbd"/><use href="#rc1" fill="#46399a"/><use href="#rc2" fill="#46399a"/><use href="#rc3" fill="#8f86c4"/>
</g>
<g filter="url(#pspk)" opacity="0.2"><path d="M3,144 h40 v60 h-40z" clip-path="url(#cbody)" fill="#000"/></g>
<g clip-path="url(#cbody)" filter="url(#b2)"><ellipse cx="20" cy="160" rx="6" ry="9" fill="#6a5eb2" opacity=".35"/></g>
<path d="M28,175.5 L33,172" stroke="#46399a" stroke-width=".5" opacity=".7"/>
</g>
<circle cx="278.0" cy="204" r=".6" fill="#9a96c4"/>
<text class="t7 it" x="355.5" y="137.3" text-anchor="middle">FAP</text>
<g transform="translate(334.2,0)"><g filter="url(#spk)">
<use href="#body" fill="#cdcddb"/>
<g clip-path="url(#cbody)"><rect x="0" y="140" width="60" height="33" fill="#c8c8da"/></g>
<use href="#topc" fill="#c4c4d8"/><use href="#rc1" fill="#46399a"/><use href="#rc2" fill="#5a4ea8"/><use href="#rc3" fill="#4a3e9c"/>
</g>
<g filter="url(#pspk)" opacity="0.15"><path d="M3,144 h40 v60 h-40z" clip-path="url(#cbody)" fill="#000"/></g>
<g clip-path="url(#cbody)" filter="url(#b2)"><ellipse cx="22" cy="157" rx="7" ry="4" fill="#6a5eb2" opacity=".25"/><ellipse cx="12" cy="198" rx="6" ry="3" fill="#5a4ea8" opacity=".3"/></g>
<path d="M28,175.5 L33,172" stroke="#46399a" stroke-width=".5" opacity=".7"/>
</g>
<circle cx="339.7" cy="204" r=".6" fill="#9a96c4"/>
<text class="t7 it" x="418.3" y="137.3" text-anchor="middle">Notch3</text>
<g transform="translate(395.9,0)"><g filter="url(#spk)">
<use href="#body" fill="#b2aed4"/>
<g clip-path="url(#cbody)"><rect x="0" y="140" width="60" height="33" fill="#a199cc"/></g>
<use href="#topc" fill="#c3c1dc"/><use href="#rc1" fill="#4b3e9c"/><use href="#rc2" fill="#bdbbd8"/><use href="#rc3" fill="#bfbcd9"/>
</g>
<g filter="url(#pspk)" opacity="0.45"><path d="M3,144 h40 v60 h-40z" clip-path="url(#cbody)" fill="#000"/></g>
<g clip-path="url(#cbody)" filter="url(#b2)"><ellipse cx="19" cy="163" rx="5" ry="7" fill="#3f3296" opacity=".6"/><ellipse cx="12" cy="190" rx="5" ry="6" fill="#5a4ea8" opacity=".3"/></g>
</g>
<circle cx="401.4" cy="204" r=".6" fill="#9a96c4"/>
<text class="t7 it" x="481.2" y="137.3" text-anchor="middle">Ly6c1</text>
<g transform="translate(457.6,0)"><g filter="url(#spk)">
<use href="#body" fill="#d0d0de"/>
<g clip-path="url(#cbody)"><rect x="0" y="140" width="60" height="33" fill="#cbcbdd"/></g>
<use href="#topc" fill="#43369a"/><use href="#rc1" fill="#c4c3da"/><use href="#rc2" fill="#c8c7dc"/><use href="#rc3" fill="#43369a"/>
</g>
<g filter="url(#pspk)" opacity="0.12"><path d="M3,144 h40 v60 h-40z" clip-path="url(#cbody)" fill="#000"/></g>
<g clip-path="url(#cbody)" filter="url(#b2)"></g>
</g>
<circle cx="463.1" cy="204" r=".6" fill="#9a96c4"/>
</g>
<g id="panelG">
<text class="pl" x="3.4" y="239.5">G</text>
<text class="tt" x="55.5" y="242.3" text-anchor="middle">Dll1<tspan class="sup" dy="-2.8">+</tspan></text>
<text class="tt" x="128.5" y="242.3" text-anchor="middle">Dll1<tspan class="sup" dy="-2.8">−</tspan></text>
<text transform="translate(15.9,277.5) rotate(-90)" text-anchor="middle" font-size="7.9"><tspan fill="#e63a36">αSMA</tspan><tspan fill="#3535b5">+DAPI</tspan></text>
<g><clipPath id="c18_245"><rect x="18" y="245" width="70.8" height="65.8"/></clipPath>
<g clip-path="url(#c18_245)">
<rect x="18" y="245" width="70.8" height="65.8" filter="url(#fl)"/>
<path d="M18,274 C26,272 34,276 36,284 C34,294 26,300 18,302Z" fill="#03021a" opacity="0.6" filter="url(#b2)"/>
<path d="M74,300 L89,296 V311 H72Z" fill="#03021a" opacity="0.75" filter="url(#b2)"/>
<path d="M18,245 h10 l-3,5 -7,2z" fill="#03021a" opacity="0.7" filter="url(#b2)"/>
<path d="M40,296 L60,294 L62,311 L38,311Z" fill="#03021a" opacity="0.45" filter="url(#b2)"/>
<path d="M19.3,299 L35.7,285 L49.5,277.3 L65,274 L73.6,268 M65,274 L72,281.7 L82,285 M54.7,279 L58,292 M66.7,269.6 L59.8,290" stroke="#a81848" stroke-width="4.5" fill="none" stroke-linecap="round" opacity="0.35" filter="url(#b2)"/>
<g filter="url(#rag)">
<path d="M19.3,299 L35.7,285 L49.5,277.3 L65,274 L73.6,268 M65,274 L72,281.7 L82,285 M54.7,279 L58,292 M66.7,269.6 L59.8,290" stroke="#cc1a30" stroke-width="2.7" fill="none" stroke-linecap="round" stroke-linejoin="round"/>
<path d="M70,271 C73,270 75,273 73,276 C71,278 68,277 68,274" stroke="#d81c30" stroke-width="1.5" fill="none" stroke-linecap="round" stroke-linejoin="round"/>
<path d="M55,252 L62,266 M33,264 L34,275 M22,290 L30,282" stroke="#b81840" stroke-width="1" fill="none" stroke-linecap="round" stroke-linejoin="round"/>
</g>
</g></g>
<rect x="22.5" y="304.5" width="27.4" height="2.9" fill="#fff"/>
<g><clipPath id="c93_245"><rect x="93" y="245" width="70.8" height="65.5"/></clipPath>
<g clip-path="url(#c93_245)">
<rect x="93" y="245" width="70.8" height="65.5" filter="url(#fl2)"/>
<path d="M92.6,250 C98,249 104,256 103.5,262 C102,267 96,267 92.6,266Z" fill="#03021a" opacity="0.92" filter="url(#b1)"/>
<path d="M92.6,292 L98,296 L97,311 H92.6Z" fill="#03021a" opacity="0.8" filter="url(#b2)"/>
<path d="M128,296 l10,-2 4,8 -12,4z" fill="#03021a" opacity="0.4" filter="url(#b2)"/>
<path d="M107,270 L119,271 M113,282 L118,286 L113,292 L115,296 M148,290 L156,294 L160,298" stroke="#a81848" stroke-width="3.5" fill="none" stroke-linecap="round" opacity="0.3" filter="url(#b2)"/>
<g filter="url(#rag)">
<path d="M107,270 L112,269 L119,271.5" stroke="#d81c30" stroke-width="1.6" fill="none" stroke-linecap="round" stroke-linejoin="round"/>
<path d="M113,281.5 L118,285.5 L112.5,292 L115,295.5" stroke="#d81c30" stroke-width="1.8" fill="none" stroke-linecap="round" stroke-linejoin="round"/>
<path d="M148,289 L153,293 L156,291 M158,296 L161,299 M154,298 L156,301" stroke="#d81c30" stroke-width="2" fill="none" stroke-linecap="round" stroke-linejoin="round"/>
<path d="M126,258 l4,3 M100,276 l3,4 M136,300 l4,2 M146,266 l4,-2" stroke="#b81840" stroke-width="1" fill="none" stroke-linecap="round" stroke-linejoin="round"/>
</g>
</g></g>
</g>
<g id="panelH">
<text class="pl" x="172.3" y="238.8">H</text>
<path d="M207.2,251 V304.3 H257" class="ax" stroke-width=".9"/>
<text class="t7" x="203" y="254.4" text-anchor="end">50</text>
<path d="M203.8,251.6 h3.4" class="ax" stroke-width=".7"/>
<text class="t7" x="203" y="264.90000000000003" text-anchor="end">40</text>
<path d="M203.8,262.1 h3.4" class="ax" stroke-width=".7"/>
<text class="t7" x="203" y="275.5" text-anchor="end">30</text>
<path d="M203.8,272.7 h3.4" class="ax" stroke-width=".7"/>
<text class="t7" x="203" y="286.0" text-anchor="end">20</text>
<path d="M203.8,283.2 h3.4" class="ax" stroke-width=".7"/>
<text class="t7" x="203" y="296.6" text-anchor="end">10</text>
<path d="M203.8,293.8 h3.4" class="ax" stroke-width=".7"/>
<text class="t7" x="203" y="307.1" text-anchor="end">0</text>
<path d="M203.8,304.3 h3.4" class="ax" stroke-width=".7"/>
<text class="t65" transform="translate(186.4,278.5) rotate(-90)" text-anchor="middle">% αSMA<tspan class="sup" dy="-2.8">+</tspan><tspan dy="2.8">/FOV</tspan></text>
<text class="t65" x="232.8" y="249.6" text-anchor="middle"><tspan class="it">P</tspan> = 0.002</text>
<path d="M219.4,256.6 V254 H246.4 V266.2" class="ax" stroke-width=".8"/>
<path d="M213.5,272.6 h12.5" stroke="#f2a0a0" stroke-width=".5"/>
<path d="M236.5,285.7 h11.5" stroke="#9fd6ae" stroke-width=".5"/>
<circle cx="219.4" cy="260.9" r="1.65" fill="#e8202a"/>
<circle cx="214.5" cy="272" r="1.65" fill="#e8202a"/>
<circle cx="219.4" cy="272" r="1.65" fill="#e8202a"/>
<circle cx="224.4" cy="272" r="1.65" fill="#e8202a"/>
<circle cx="217" cy="278.2" r="1.65" fill="#e8202a"/>
<circle cx="221.8" cy="278.2" r="1.65" fill="#e8202a"/>
<rect x="240.55" y="276.65" width="3.1" height="3.1" fill="#1f9a4a"/>
<rect x="237.75" y="282.25" width="3.1" height="3.1" fill="#1f9a4a"/>
<rect x="243.35" y="282.25" width="3.1" height="3.1" fill="#1f9a4a"/>
<rect x="236.05" y="287.25" width="3.1" height="3.1" fill="#1f9a4a"/>
<rect x="240.55" y="287.25" width="3.1" height="3.1" fill="#1f9a4a"/>
<rect x="245.15" y="287.25" width="3.1" height="3.1" fill="#1f9a4a"/>
<path d="M219.7,304.3 v1.8 M244,304.3 v1.8" class="ax" stroke-width=".7"/>
<text class="t65" x="220" y="313.6" text-anchor="middle">Dll1<tspan class="sup" dy="-2.8">+</tspan></text>
<text class="t65" x="244" y="313.6" text-anchor="middle">Dll1<tspan class="sup" dy="-2.8">−</tspan></text>
</g>
<g id="panelK">
<text class="pl" x="259.3" y="239.5">K</text>
<text class="tt" x="306.5" y="242.3" text-anchor="middle">Ctrl</text>
<text class="tt" x="384" y="242.3" text-anchor="middle">Dll1-OE</text>
<text transform="translate(271,277.5) rotate(-90)" text-anchor="middle" font-size="7.9"><tspan fill="#e63a36">αSMA</tspan><tspan fill="#3535b5">+DAPI</tspan></text>
<g><clipPath id="c272_245"><rect x="272.3" y="245.2" width="70.7" height="65.8"/></clipPath>
<g clip-path="url(#c272_245)">
<rect x="272.3" y="245.2" width="70.7" height="65.8" filter="url(#fl2)"/>
<path d="M278.3,252 L299,252 C302,262 297,269 290,270.6 C283,271 278,264 278.3,252Z" fill="#03021a" opacity="0.9" filter="url(#b2)"/>
<path d="M301.5,272 L321,272 L319,288 L303,288Z" fill="#03021a" opacity="0.92" filter="url(#b2)"/>
<path d="M272.3,274 L283,278 L282,299 L272.3,300Z" fill="#03021a" opacity="0.85" filter="url(#b2)"/>
<path d="M272.3,299 H343 V311 H272.3Z" fill="#03021a" opacity="0.65" filter="url(#b2)"/>
<path d="M328,294 l15,-2 v12 h-16z" fill="#03021a" opacity="0.55" filter="url(#b2)"/>
<path d="M272.3,245.2 h12 v28 h-12z" fill="#03021a" opacity="0.45" filter="url(#b2)"/>
<path d="M306,262 l14,-6 4,8 -12,8z" fill="#03021a" opacity="0.4" filter="url(#b2)"/>
<rect x="272" y="245" width="72" height="66" fill="#03021a" opacity=".4"/>
<ellipse cx="289" cy="260.5" rx="5" ry="3" fill="#2626a8" opacity=".7" filter="url(#b1)"/>
<path d="M275,278 L290.5,279 L299,286.8 L319.7,287.7 L337,292 M307.7,268 L325,259.2 L333.5,252.3 L342,246 M320,273 L327,262.7 L337,259.2" stroke="#a81848" stroke-width="3" fill="none" stroke-linecap="round" opacity="0.25" filter="url(#b2)"/>
<path d="M321,273 L326,280 L328,287" stroke="#d02030" stroke-width="4.5" fill="none" stroke-linecap="round" opacity="0.45" filter="url(#b2)"/>
<g filter="url(#rag)">
<path d="M275,278 L290.5,279 L299,286.8 L319.7,287.7 L337,292 M307.7,268 L325,259.2 L333.5,252.3 L342,246 M320,273 L327,262.7 L337,259.2" stroke="#c81c34" stroke-width="1.4" fill="none" stroke-linecap="round" stroke-linejoin="round"/>
<path d="M321,272 L324,278 L323,284 L329,288 M326,270 L328,280" stroke="#d81c30" stroke-width="2.4" fill="none" stroke-linecap="round" stroke-linejoin="round"/>
<path d="M296,262 l6,5 M288,300 l5,3 M312,298 l6,3 M300,250 l8,4 M330,266 l8,6" stroke="#b81840" stroke-width="1" fill="none" stroke-linecap="round" stroke-linejoin="round"/>
</g>
</g></g>
<rect x="275.2" y="302.3" width="25.8" height="2.9" fill="#fff"/>
<g><clipPath id="c348_245"><rect x="348.4" y="245" width="71.5" height="65.8"/></clipPath>
<g clip-path="url(#c348_245)">
<rect x="348.4" y="245" width="71.5" height="65.8" filter="url(#fl)"/>
<path d="M348.4,290 L366,296 L368,311 H348.4Z" fill="#03021a" opacity="0.85" filter="url(#b2)"/>
<path d="M348.4,301 H420 V311 H348.4Z" fill="#03021a" opacity="0.9" filter="url(#b2)"/>
<path d="M400,245 H420 V258 L408,252Z" fill="#03021a" opacity="0.7" filter="url(#b2)"/>
<path d="M414,262 L420,262 V300 L413,296Z" fill="#03021a" opacity="0.75" filter="url(#b2)"/>
<path d="M349,245 h12 l-12,10z" fill="#03021a" opacity="0.5" filter="url(#b2)"/>
<path d="M348,245 H421 V311 H348Z M378,259.5 L369.5,268 L368.5,286 L377,295 L400,294 L410,284 L411,266 L400,256.5Z" fill="#03021a" opacity=".5" fill-rule="evenodd"/>
<path d="M379,261.5 L399.5,258.5 L409,267 L408,283 L399,292 L378,293 L370.5,285.5 L371.5,269Z" fill="#03021a" opacity=".18" filter="url(#b1)"/>
<ellipse cx="390.5" cy="283" rx="3.5" ry="3.2" fill="#03021a" opacity=".7" filter="url(#b1)"/>
<ellipse cx="372" cy="299.5" rx="5.5" ry="4" fill="#2a28c8" opacity=".45" filter="url(#b1)"/>
<path d="M349,266 L367,253 L379,246 M349,277.5 L361,268 L375,257.5 M351,287 L366.5,273" stroke="#b01838" stroke-width="4.5" fill="none" stroke-linecap="round" opacity="0.4" filter="url(#b2)"/>
<path d="M378,259.5 L400,256.5 L411,266 L410,284 L400,294 L377,295 L368.5,286 L369.5,268Z" stroke="#b01838" stroke-width="4.5" fill="none" stroke-linecap="round" opacity="0.35" filter="url(#b2)"/>
<path d="M378.5,254 L392,250 L409.5,262 M371,271 L368,290 M372,299 C368,297 365,300 366,303 C369,306 376,305 378,302" stroke="#a81848" stroke-width="4" fill="none" stroke-linecap="round" opacity="0.3" filter="url(#b2)"/>
<path d="M349,262 L360,252 L368,246 M350,272 L364,261 M352,282 L362,272 M354,292 L366,280 M380,250 L396,247 M384,256 L398,253" stroke="#b81838" stroke-width="3" fill="none" stroke-linecap="round" opacity="0.35" filter="url(#b2)"/>
<g filter="url(#rag)">
<path d="M378,259.5 L400,256.5 L411,266 L410,284 L400,294 L377,295 L368.5,286 L369.5,268Z" stroke="#d01c32" stroke-width="2.0" fill="none" stroke-linecap="round" stroke-linejoin="round"/>
<path d="M349,266 L367,253 L379,246 M349,277.5 L361,268 L375,257.5 M351,287 L366.5,273" stroke="#d01c32" stroke-width="2.4" fill="none" stroke-linecap="round" stroke-linejoin="round"/>
<path d="M378.5,254 L392,250 L409.5,262 M371,271 L368,290 M372,299 C368,297 365,300 366,303 C369,306 376,305 378,302" stroke="#d81c30" stroke-width="1.8" fill="none" stroke-linecap="round" stroke-linejoin="round"/>
<path d="M349,262 L360,252 L368,246 M350,272 L364,261 M352,282 L362,272 M354,292 L366,280 M380,250 L396,247 M384,256 L398,253" stroke="#c81c34" stroke-width="1.2" fill="none" stroke-linecap="round" stroke-linejoin="round"/>
<path d="M395,248 L408,252 L418,258 M352,296 L362,302 M412,284 L417,290 M404,296 L412,300" stroke="#c81838" stroke-width="1.5" fill="none" stroke-linecap="round" stroke-linejoin="round"/>
</g>
</g></g>
</g>
<g id="panelL">
<text class="pl" x="427.3" y="238.8">L</text>
<path d="M459.2,246 V299.4 H511.4" class="ax" stroke-width=".9"/>
<text class="t7" x="455.6" y="249.60000000000002" text-anchor="end">100</text>
<path d="M456.2,246.8 h3" class="ax" stroke-width=".7"/>
<text class="t7" x="455.6" y="260.1" text-anchor="end">80</text>
<path d="M456.2,257.3 h3" class="ax" stroke-width=".7"/>
<text class="t7" x="455.6" y="270.6" text-anchor="end">60</text>
<path d="M456.2,267.8 h3" class="ax" stroke-width=".7"/>
<text class="t7" x="455.6" y="281.2" text-anchor="end">40</text>
<path d="M456.2,278.4 h3" class="ax" stroke-width=".7"/>
<text class="t7" x="455.6" y="291.7" text-anchor="end">20</text>
<path d="M456.2,288.9 h3" class="ax" stroke-width=".7"/>
<text class="t7" x="455.6" y="302.2" text-anchor="end">0</text>
<path d="M456.2,299.4 h3" class="ax" stroke-width=".7"/>
<text class="t65" transform="translate(440.6,275.5) rotate(-90)" text-anchor="middle">% αSMA<tspan class="sup" dy="-2.8">+</tspan><tspan dy="2.8">/FOV</tspan></text>
<text class="t65" x="483" y="248.8" text-anchor="middle"><tspan class="it">P</tspan> &lt; 0.0001</text>
<path d="M470.2,265.5 V252.9 H497.6 V257.8" class="ax" stroke-width=".8"/>
<path d="M463.5,284 h16.5" stroke="#a8b0e8" stroke-width=".5"/>
<path d="M487.5,266 h17.5" stroke="#f2a0a0" stroke-width=".6"/>
<circle cx="471.6" cy="278.2" r="1.5" fill="#1a2aa8"/>
<circle cx="464.9" cy="283.1" r="1.5" fill="#1a2aa8"/>
<circle cx="468.8" cy="283.6" r="1.5" fill="#1a2aa8"/>
<circle cx="479" cy="283.1" r="1.5" fill="#1a2aa8"/>
<circle cx="472.3" cy="285" r="1.5" fill="#1a2aa8"/>
<circle cx="475.6" cy="285" r="1.5" fill="#1a2aa8"/>
<circle cx="464.9" cy="288.6" r="1.5" fill="#1a2aa8"/>
<circle cx="479" cy="288.6" r="1.5" fill="#1a2aa8"/>
<rect x="487.35" y="261.05" width="2.9" height="2.9" fill="#e8202a"/>
<rect x="487.35" y="265.95" width="2.9" height="2.9" fill="#e8202a"/>
<rect x="487.35" y="271.45" width="2.9" height="2.9" fill="#e8202a"/>
<rect x="495.25" y="261.05" width="2.9" height="2.9" fill="#e8202a"/>
<rect x="495.25" y="265.75" width="2.9" height="2.9" fill="#e8202a"/>
<rect x="502.05" y="258.15" width="2.9" height="2.9" fill="#e8202a"/>
<rect x="502.05" y="263.55" width="2.9" height="2.9" fill="#e8202a"/>
<rect x="502.05" y="268.95" width="2.9" height="2.9" fill="#e8202a"/>
<rect x="491.25" y="262.85" width="2.9" height="2.9" fill="#e8202a"/>
<rect x="498.75" y="265.05" width="2.9" height="2.9" fill="#e8202a"/>
<path d="M471.2,299.4 v1.8 M497.6,299.4 v1.8" class="ax" stroke-width=".7"/>
<text class="t65" x="471.2" y="307.3" text-anchor="middle">Ctrl</text>
<text class="t65" x="497.8" y="307.3" text-anchor="middle">Dll1-</text>
<text class="t65" x="497.4" y="316.1" text-anchor="middle">OE</text>
</g>
<g id="panelI">
<text class="pl" x="4" y="329.3">I</text>
<text class="tt" x="55.8" y="335.8" text-anchor="middle">Dll1<tspan class="sup" dy="-2.8">+</tspan></text>
<text class="tt" x="128.5" y="335.8" text-anchor="middle">Dll1<tspan class="sup" dy="-2.8">−</tspan></text>
<text class="t7" transform="translate(15.2,370.5) rotate(-90)" text-anchor="middle">FAP</text>
<g><clipPath id="i18_339"><rect x="18.3" y="339" width="72.4" height="72.3"/></clipPath>
<g clip-path="url(#i18_339)"><g filter="url(#ihc)">
<rect x="18.3" y="339" width="72.4" height="72.3" fill="#d9e0ee"/>
<g filter="url(#b1)" fill="#919fcc"><ellipse cx="46" cy="359" rx="10" ry="9.5"/><ellipse cx="69" cy="353.8" rx="11" ry="12"/><ellipse cx="40.8" cy="385.7" rx="9.5" ry="9.5"/><ellipse cx="76" cy="399" rx="16" ry="13"/><ellipse cx="85" cy="376" rx="9" ry="13"/><ellipse cx="21" cy="385" rx="4" ry="6"/><ellipse cx="87" cy="346.5" rx="6" ry="7.5"/><ellipse cx="28" cy="405" rx="9" ry="6"/></g>
<g filter="url(#b2)" fill="#a2afd5"><ellipse cx="46" cy="359" rx="5.5" ry="5.2250000000000005"/><ellipse cx="69" cy="353.8" rx="6.050000000000001" ry="6.6000000000000005"/><ellipse cx="40.8" cy="385.7" rx="5.2250000000000005" ry="5.2250000000000005"/><ellipse cx="76" cy="399" rx="8.8" ry="7.15"/><ellipse cx="85" cy="376" rx="4.95" ry="7.15"/></g>
<path d="M24,350 C28,356 30,364 27,374 M40,343 C36,348 33,354 33,362 M33,368 C42,372 52,371 60,374 C66,378 70,382 74,386 M56,346 C57,354 58,362 57,370 M58,374 C58,380 57,386 55,392 M20,392 C26,394 30,398 34,402 M22,362 l8,4" stroke="#c39a76" stroke-width="5.5" fill="none" filter="url(#b3)" opacity=".9"/>
<path d="M34,369 C42,372 52,371 60,374 M57,350 L57,368 M26,352 L28,368" stroke="#a9744c" stroke-width="1.2" fill="none" filter="url(#b1)" opacity=".55"/>
</g>
</g>
<rect x="18.3" y="339" width="72.4" height="72.3" fill="none" stroke="#4a4a55" stroke-width=".7"/></g>
<rect x="21" y="400.8" width="13.6" height="2.4" fill="#0a0a0a"/>
<g><clipPath id="i93_339"><rect x="93.7" y="339" width="72" height="72.3"/></clipPath>
<g clip-path="url(#i93_339)"><g filter="url(#ihc)">
<rect x="93.7" y="339" width="72" height="72.3" fill="#d5deee"/>
<g filter="url(#b1)" fill="#8a9bcc"><ellipse cx="103.4" cy="371.4" rx="11.5" ry="13.5"/><ellipse cx="142.6" cy="373.3" rx="15.3" ry="14"/><ellipse cx="116.8" cy="401" rx="18.5" ry="11"/><ellipse cx="106" cy="346.5" rx="12" ry="7.5"/><ellipse cx="162" cy="348.4" rx="4.5" ry="8"/><ellipse cx="153.6" cy="405" rx="12" ry="8"/><ellipse cx="134" cy="344" rx="10" ry="4.5"/><ellipse cx="163" cy="392" rx="4" ry="8"/></g>
<g filter="url(#b2)" fill="#9aa9d4"><ellipse cx="103.4" cy="371.4" rx="5.75" ry="6.75"/><ellipse cx="142.6" cy="373.3" rx="7.65" ry="7.0"/><ellipse cx="116.8" cy="401" rx="9.25" ry="5.5"/></g>
<path d="M121,352 C123,362 124,372 122,384 M116,356 l8,8" stroke="#b9988a" stroke-width="2" fill="none" filter="url(#b2)" opacity=".55"/>
</g>
</g>
<rect x="93.7" y="339" width="72" height="72.3" fill="none" stroke="#4a4a55" stroke-width=".7"/></g>
</g>
<g id="panelJ">
<text class="pl" x="172.8" y="329.6">J</text>
<path d="M208.1,347.6 V401.1 H257" class="ax" stroke-width=".9"/>
<text class="t7" x="204.2" y="351.2" text-anchor="end">80</text>
<path d="M204.9,348.4 h3.2" class="ax" stroke-width=".7"/>
<text class="t7" x="204.2" y="364.40000000000003" text-anchor="end">60</text>
<path d="M204.9,361.6 h3.2" class="ax" stroke-width=".7"/>
<text class="t7" x="204.2" y="377.6" text-anchor="end">40</text>
<path d="M204.9,374.8 h3.2" class="ax" stroke-width=".7"/>
<text class="t7" x="204.2" y="390.8" text-anchor="end">20</text>
<path d="M204.9,388 h3.2" class="ax" stroke-width=".7"/>
<text class="t7" x="204.2" y="403.90000000000003" text-anchor="end">0</text>
<path d="M204.9,401.1 h3.2" class="ax" stroke-width=".7"/>
<text class="t65" transform="translate(184.2,373) rotate(-90)" text-anchor="middle">FAP- <tspan class="it">H</tspan> score</text>
<text class="t65" transform="translate(193.4,373) rotate(-90)" text-anchor="middle">/FOV</text>
<text class="t65" x="231.4" y="350.4" text-anchor="middle"><tspan class="it">P</tspan> = 0.01</text>
<path d="M219.4,357.2 V354 H244.3 V366" class="ax" stroke-width=".8"/>
<path d="M214,375 h11.3 M219.7,370.2 v9.8 M217.5,370.2 h4.4 M217.5,380 h4.4" stroke="#f08a8a" stroke-width=".55" fill="none"/>
<path d="M238.5,389.6 h11" stroke="#9fd6ae" stroke-width=".5"/>
<circle cx="217" cy="361.4" r="1.65" fill="#e8202a"/>
<circle cx="222.5" cy="361.4" r="1.65" fill="#e8202a"/>
<circle cx="219.7" cy="375" r="1.65" fill="#e8202a"/>
<circle cx="217" cy="382" r="1.65" fill="#e8202a"/>
<circle cx="222.5" cy="382" r="1.65" fill="#e8202a"/>
<circle cx="219.7" cy="388.8" r="1.65" fill="#e8202a"/>
<rect x="242.60" y="381.10" width="2.8" height="2.8" fill="#1f9a4a"/>
<rect x="237.90" y="389.30" width="2.8" height="2.8" fill="#1f9a4a"/>
<rect x="242.60" y="387.80" width="2.8" height="2.8" fill="#1f9a4a"/>
<rect x="247.20" y="389.30" width="2.8" height="2.8" fill="#1f9a4a"/>
<rect x="242.60" y="391.20" width="2.8" height="2.8" fill="#1f9a4a"/>
<rect x="240.30" y="392.80" width="2.8" height="2.8" fill="#1f9a4a"/>
<rect x="242.60" y="394.20" width="2.8" height="2.8" fill="#1f9a4a"/>
<path d="M219.7,401.1 v1.8 M244,401.1 v1.8" class="ax" stroke-width=".7"/>
<text class="t65" x="220.2" y="410.8" text-anchor="middle">Dll1<tspan class="sup" dy="-2.8">+</tspan></text>
<text class="t65" x="244.4" y="410.8" text-anchor="middle">Dll1<tspan class="sup" dy="-2.8">−</tspan></text>
</g>
<g id="panelM">
<text class="pl" x="258.8" y="329.3">M</text>
<text class="tt" x="308.5" y="335.8" text-anchor="middle">Ctrl</text>
<text class="tt" x="384" y="335.8" text-anchor="middle">Dll1-OE</text>
<text class="t7" transform="translate(270.2,370.5) rotate(-90)" text-anchor="middle">FAP</text>
<g><clipPath id="i275_339"><rect x="275.4" y="339" width="73" height="72"/></clipPath>
<g clip-path="url(#i275_339)"><g filter="url(#ihc)">
<rect x="275.4" y="339" width="73" height="72" fill="#6f8dd0"/>
<path d="M287.3,340.7 C300,354 316,368 326,380 C332,388 336,392.4 340,397" stroke="#7f7a98" stroke-width="1.6" fill="none" opacity=".7" filter="url(#b05)"/>
<path d="M283,339 C296,352 312,366 322,378" stroke="#5f7cc4" stroke-width="3" fill="none" opacity=".5" filter="url(#b1)"/>
</g>
<g filter="url(#rough)">
<path d="M299,339.2 L348.5,339.2 L348.5,344.6 L335.2,346.5 L323.7,356 L318,354 L306.5,344.6Z" fill="#ece8ef" filter="url(#b05)"/>
<path d="M315,357 C318,355 327,356 329.4,359 C330,363 328,367 324,367.5 C319,368 315,365 315,357Z" fill="#f2edf1" filter="url(#b05)"/>
<g fill="#f7f8fc" filter="url(#b05)"><path d="M275.4,346.5 h7 v9.5 h-7z"/><ellipse cx="341.4" cy="371.4" rx="4.3" ry="4.8"/><ellipse cx="329.4" cy="379" rx="2.9" ry="3.8"/><ellipse cx="283" cy="397.2" rx="5.2" ry="4.8"/><ellipse cx="305" cy="394.3" rx="4.3" ry="3.8"/><ellipse cx="297.8" cy="363.7" rx="2" ry="2"/><ellipse cx="302.6" cy="375.2" rx="3.8" ry="2.9"/><ellipse cx="338" cy="352" rx="3" ry="2.2"/><ellipse cx="344" cy="386" rx="2.5" ry="3"/><path d="M335,398 l13.5,-2 v15 h-12z" opacity=".65"/></g>
<g fill="#f4f6fb" opacity=".92"><ellipse cx="320.6" cy="393.0" rx="1.9" ry="2.2" transform="rotate(83 320.6 393.0)"/><ellipse cx="341.6" cy="345.9" rx="1.0" ry="1.2" transform="rotate(83 341.6 345.9)"/><ellipse cx="280.6" cy="354.4" rx="0.9" ry="1.0" transform="rotate(48 280.6 354.4)"/><ellipse cx="315.1" cy="381.9" rx="0.6" ry="0.4" transform="rotate(35 315.1 381.9)"/><ellipse cx="289.7" cy="401.3" rx="0.9" ry="1.0" transform="rotate(9 289.7 401.3)"/><ellipse cx="286.7" cy="384.8" rx="0.6" ry="0.4" transform="rotate(0 286.7 384.8)"/><ellipse cx="291.7" cy="358.2" rx="2.5" ry="2.8" transform="rotate(37 291.7 358.2)"/><ellipse cx="299.0" cy="357.1" rx="2.1" ry="2.1" transform="rotate(23 299.0 357.1)"/><ellipse cx="342.9" cy="389.6" rx="2.5" ry="2.8" transform="rotate(38 342.9 389.6)"/><ellipse cx="278.5" cy="371.4" rx="2.4" ry="1.8" transform="rotate(42 278.5 371.4)"/><ellipse cx="298.1" cy="383.8" rx="0.6" ry="0.6" transform="rotate(43 298.1 383.8)"/><ellipse cx="281.6" cy="367.5" rx="0.8" ry="0.8" transform="rotate(23 281.6 367.5)"/><ellipse cx="310.7" cy="390.5" rx="0.6" ry="0.7" transform="rotate(2 310.7 390.5)"/><ellipse cx="343.4" cy="367.6" rx="0.9" ry="0.9" transform="rotate(53 343.4 367.6)"/><ellipse cx="302.6" cy="382.2" rx="0.6" ry="0.4" transform="rotate(23 302.6 382.2)"/><ellipse cx="320.7" cy="407.0" rx="0.6" ry="0.5" transform="rotate(59 320.7 407.0)"/><ellipse cx="301.1" cy="367.4" rx="1.2" ry="1.2" transform="rotate(13 301.1 367.4)"/><ellipse cx="318.3" cy="395.5" rx="0.9" ry="0.7" transform="rotate(55 318.3 395.5)"/><ellipse cx="343.2" cy="350.0" rx="0.8" ry="0.8" transform="rotate(18 343.2 350.0)"/><ellipse cx="300.8" cy="405.0" rx="1.2" ry="0.9" transform="rotate(40 300.8 405.0)"/><ellipse cx="298.4" cy="396.7" rx="1.4" ry="1.4" transform="rotate(39 298.4 396.7)"/><ellipse cx="346.8" cy="354.7" rx="0.6" ry="0.7" transform="rotate(68 346.8 354.7)"/><ellipse cx="341.7" cy="346.1" rx="1.7" ry="1.4" transform="rotate(32 341.7 346.1)"/><ellipse cx="308.9" cy="371.8" rx="0.6" ry="0.7" transform="rotate(4 308.9 371.8)"/><ellipse cx="333.1" cy="366.1" rx="0.7" ry="0.8" transform="rotate(72 333.1 366.1)"/><ellipse cx="343.5" cy="385.6" rx="1.8" ry="1.2" transform="rotate(55 343.5 385.6)"/><ellipse cx="303.1" cy="347.9" rx="1.0" ry="0.7" transform="rotate(79 303.1 347.9)"/><ellipse cx="336.7" cy="408.4" rx="1.0" ry="0.9" transform="rotate(40 336.7 408.4)"/><ellipse cx="310.5" cy="363.2" rx="0.9" ry="0.6" transform="rotate(48 310.5 363.2)"/><ellipse cx="334.5" cy="379.1" rx="0.7" ry="0.8" transform="rotate(43 334.5 379.1)"/><ellipse cx="289.6" cy="376.5" rx="1.1" ry="1.1" transform="rotate(64 289.6 376.5)"/><ellipse cx="302.3" cy="395.9" rx="1.8" ry="1.8" transform="rotate(84 302.3 395.9)"/><ellipse cx="279.4" cy="364.2" rx="1.2" ry="1.2" transform="rotate(62 279.4 364.2)"/><ellipse cx="295.5" cy="408.7" rx="1.6" ry="1.9" transform="rotate(43 295.5 408.7)"/><ellipse cx="322.5" cy="382.3" rx="0.6" ry="0.6" transform="rotate(32 322.5 382.3)"/><ellipse cx="299.8" cy="362.1" rx="0.8" ry="0.7" transform="rotate(86 299.8 362.1)"/><ellipse cx="332.8" cy="367.0" rx="1.4" ry="1.5" transform="rotate(52 332.8 367.0)"/><ellipse cx="301.5" cy="399.6" rx="2.1" ry="2.1" transform="rotate(46 301.5 399.6)"/><ellipse cx="344.0" cy="378.2" rx="1.2" ry="0.8" transform="rotate(46 344.0 378.2)"/><ellipse cx="342.6" cy="375.5" rx="1.6" ry="1.6" transform="rotate(53 342.6 375.5)"/><ellipse cx="289.0" cy="395.5" rx="1.3" ry="1.3" transform="rotate(53 289.0 395.5)"/><ellipse cx="298.2" cy="380.5" rx="2.1" ry="1.6" transform="rotate(3 298.2 380.5)"/><ellipse cx="290.7" cy="382.7" rx="1.4" ry="1.0" transform="rotate(87 290.7 382.7)"/><ellipse cx="289.6" cy="391.4" rx="2.5" ry="3.0" transform="rotate(21 289.6 391.4)"/><ellipse cx="280.8" cy="352.8" rx="0.8" ry="0.6" transform="rotate(24 280.8 352.8)"/><ellipse cx="315.4" cy="371.4" rx="0.8" ry="0.8" transform="rotate(9 315.4 371.4)"/><ellipse cx="318.3" cy="359.7" rx="2.2" ry="1.3" transform="rotate(51 318.3 359.7)"/><ellipse cx="343.6" cy="400.5" rx="2.1" ry="2.1" transform="rotate(70 343.6 400.5)"/><ellipse cx="303.2" cy="346.4" rx="1.4" ry="0.9" transform="rotate(69 303.2 346.4)"/><ellipse cx="312.9" cy="406.8" rx="0.8" ry="0.6" transform="rotate(16 312.9 406.8)"/><ellipse cx="306.3" cy="397.7" rx="1.4" ry="1.2" transform="rotate(18 306.3 397.7)"/><ellipse cx="288.0" cy="369.3" rx="1.1" ry="0.8" transform="rotate(17 288.0 369.3)"/><ellipse cx="319.6" cy="367.2" rx="2.2" ry="1.3" transform="rotate(13 319.6 367.2)"/><ellipse cx="299.8" cy="404.5" rx="1.2" ry="0.9" transform="rotate(72 299.8 404.5)"/><ellipse cx="303.3" cy="372.5" rx="0.7" ry="0.5" transform="rotate(90 303.3 372.5)"/><ellipse cx="303.6" cy="407.4" rx="2.3" ry="2.2" transform="rotate(33 303.6 407.4)"/><ellipse cx="328.9" cy="363.9" rx="0.7" ry="0.4" transform="rotate(39 328.9 363.9)"/><ellipse cx="311.4" cy="362.9" rx="1.1" ry="0.7" transform="rotate(79 311.4 362.9)"/><ellipse cx="344.3" cy="360.2" rx="0.6" ry="0.4" transform="rotate(50 344.3 360.2)"/><ellipse cx="277.9" cy="379.1" rx="0.7" ry="0.9" transform="rotate(4 277.9 379.1)"/><ellipse cx="294.2" cy="361.7" rx="0.6" ry="0.8" transform="rotate(37 294.2 361.7)"/><ellipse cx="311.5" cy="409.5" rx="1.1" ry="1.3" transform="rotate(15 311.5 409.5)"/><ellipse cx="278.1" cy="352.3" rx="0.8" ry="0.8" transform="rotate(78 278.1 352.3)"/><ellipse cx="297.8" cy="379.0" rx="1.0" ry="0.8" transform="rotate(75 297.8 379.0)"/><ellipse cx="286.3" cy="344.2" rx="1.2" ry="1.2" transform="rotate(13 286.3 344.2)"/><ellipse cx="339.2" cy="380.0" rx="0.6" ry="0.6" transform="rotate(54 339.2 380.0)"/><ellipse cx="318.6" cy="389.5" rx="2.4" ry="2.4" transform="rotate(49 318.6 389.5)"/><ellipse cx="310.3" cy="389.0" rx="1.6" ry="1.9" transform="rotate(59 310.3 389.0)"/><ellipse cx="335.1" cy="348.4" rx="2.0" ry="2.0" transform="rotate(55 335.1 348.4)"/><ellipse cx="317.7" cy="386.8" rx="1.0" ry="0.8" transform="rotate(21 317.7 386.8)"/><ellipse cx="310.5" cy="380.2" rx="1.1" ry="0.9" transform="rotate(19 310.5 380.2)"/><ellipse cx="306.8" cy="379.7" rx="0.6" ry="0.6" transform="rotate(34 306.8 379.7)"/><ellipse cx="334.4" cy="396.3" rx="1.5" ry="0.9" transform="rotate(54 334.4 396.3)"/><ellipse cx="345.5" cy="409.9" rx="1.6" ry="1.0" transform="rotate(15 345.5 409.9)"/><ellipse cx="292.3" cy="386.6" rx="2.4" ry="2.5" transform="rotate(17 292.3 386.6)"/><ellipse cx="346.6" cy="390.6" rx="1.0" ry="0.7" transform="rotate(23 346.6 390.6)"/><ellipse cx="306.0" cy="354.6" rx="1.4" ry="0.9" transform="rotate(13 306.0 354.6)"/><ellipse cx="323.2" cy="393.2" rx="0.8" ry="0.7" transform="rotate(15 323.2 393.2)"/><ellipse cx="329.0" cy="402.0" rx="0.6" ry="0.5" transform="rotate(40 329.0 402.0)"/><ellipse cx="325.0" cy="376.3" rx="0.8" ry="0.8" transform="rotate(7 325.0 376.3)"/><ellipse cx="286.7" cy="363.5" rx="1.2" ry="1.3" transform="rotate(37 286.7 363.5)"/><ellipse cx="340.7" cy="380.6" rx="1.4" ry="1.0" transform="rotate(70 340.7 380.6)"/><ellipse cx="293.5" cy="399.0" rx="0.8" ry="0.9" transform="rotate(30 293.5 399.0)"/><ellipse cx="337.4" cy="373.9" rx="0.9" ry="0.6" transform="rotate(2 337.4 373.9)"/><ellipse cx="322.9" cy="349.6" rx="1.5" ry="1.0" transform="rotate(15 322.9 349.6)"/><ellipse cx="312.5" cy="373.9" rx="0.9" ry="0.8" transform="rotate(41 312.5 373.9)"/><ellipse cx="284.5" cy="379.0" rx="1.2" ry="1.0" transform="rotate(19 284.5 379.0)"/><ellipse cx="343.1" cy="372.3" rx="1.9" ry="2.0" transform="rotate(10 343.1 372.3)"/><ellipse cx="345.1" cy="387.9" rx="1.9" ry="1.3" transform="rotate(79 345.1 387.9)"/><ellipse cx="303.3" cy="399.2" rx="0.8" ry="0.9" transform="rotate(90 303.3 399.2)"/><ellipse cx="301.4" cy="369.5" rx="0.6" ry="0.7" transform="rotate(82 301.4 369.5)"/><ellipse cx="297.7" cy="385.7" rx="2.4" ry="2.0" transform="rotate(4 297.7 385.7)"/><ellipse cx="318.5" cy="381.8" rx="1.7" ry="1.4" transform="rotate(12 318.5 381.8)"/><ellipse cx="279.6" cy="356.3" rx="0.7" ry="0.6" transform="rotate(61 279.6 356.3)"/><ellipse cx="323.3" cy="367.0" rx="1.0" ry="0.8" transform="rotate(79 323.3 367.0)"/><ellipse cx="341.5" cy="365.3" rx="1.0" ry="0.7" transform="rotate(83 341.5 365.3)"/><ellipse cx="288.1" cy="368.7" rx="0.9" ry="1.0" transform="rotate(19 288.1 368.7)"/><ellipse cx="315.6" cy="351.3" rx="1.9" ry="2.0" transform="rotate(86 315.6 351.3)"/><ellipse cx="293.5" cy="375.8" rx="0.6" ry="0.7" transform="rotate(47 293.5 375.8)"/><ellipse cx="299.1" cy="347.9" rx="0.6" ry="0.5" transform="rotate(19 299.1 347.9)"/><ellipse cx="285.3" cy="388.1" rx="0.8" ry="0.8" transform="rotate(20 285.3 388.1)"/><ellipse cx="279.3" cy="391.2" rx="1.3" ry="1.3" transform="rotate(79 279.3 391.2)"/><ellipse cx="305.1" cy="408.3" rx="0.9" ry="0.7" transform="rotate(59 305.1 408.3)"/><ellipse cx="302.3" cy="348.4" rx="2.6" ry="2.3" transform="rotate(30 302.3 348.4)"/><ellipse cx="289.3" cy="357.8" rx="0.6" ry="0.6" transform="rotate(34 289.3 357.8)"/><ellipse cx="277.4" cy="348.0" rx="1.8" ry="1.5" transform="rotate(5 277.4 348.0)"/><ellipse cx="279.3" cy="399.1" rx="2.0" ry="1.9" transform="rotate(12 279.3 399.1)"/><ellipse cx="327.2" cy="359.6" rx="1.9" ry="1.2" transform="rotate(60 327.2 359.6)"/><ellipse cx="280.8" cy="360.1" rx="0.6" ry="0.5" transform="rotate(7 280.8 360.1)"/><ellipse cx="280.4" cy="399.0" rx="1.0" ry="1.0" transform="rotate(4 280.4 399.0)"/></g>
</g>
</g>
<rect x="275.4" y="339" width="73" height="72" fill="none" stroke="#4a4a55" stroke-width=".7"/></g>
<rect x="281.2" y="403.5" width="13.4" height="2.4" fill="#0a0a0a"/>
<g><clipPath id="i353_338"><rect x="353.4" y="338.8" width="71.2" height="72.2"/></clipPath>
<g clip-path="url(#i353_338)"><g filter="url(#ihc)">
<rect x="353.4" y="338.8" width="71.2" height="72.2" fill="#7c98d6"/>
<path d="M353.4,372 L373,363 L397.8,351.5 L424.6,336 L424.6,355 L407.4,364.5 L384.4,378 L369,389.5 L353.4,388Z" fill="#e2dee6" filter="url(#b2)"/>
</g>
<g filter="url(#rough)">
<path d="M353.4,338.8 H380.6 C380,345 374,350 366,351 L353.4,353Z" fill="#ede8ed" filter="url(#b1)"/>
<path d="M355,381 C370,373 392,362 420,344 M360,384 C374,376 390,368 406,358 M356,377 C368,371 380,366 392,359" stroke="#a88a72" stroke-width="1.2" fill="none" opacity=".75" filter="url(#b05)"/>
<path d="M356,379 C372,371 394,360 418,346" stroke="#eeeaf0" stroke-width="1.6" fill="none" opacity=".8" filter="url(#b05)"/>
<path d="M384.5,383 C386,390 385,396 388,402 M417,390.5 l4,4" stroke="#8d7a78" stroke-width="1" fill="none" opacity=".6" filter="url(#b05)"/>
<ellipse cx="393" cy="403" rx="4.8" ry="4.6" fill="#f3f3f8" filter="url(#b05)"/>
<g fill="#3a3440" opacity=".7"><circle cx="355.8" cy="380" r="1.1"/><circle cx="384.5" cy="383" r="1.1"/><circle cx="417" cy="390.5" r="1.2"/></g>
<g fill="#f4f6fb" opacity=".88"><ellipse cx="419.6" cy="355.2" rx="1.5" ry="1.4" transform="rotate(24 419.6 355.2)"/><ellipse cx="391.1" cy="347.7" rx="0.8" ry="0.5" transform="rotate(69 391.1 347.7)"/><ellipse cx="422.0" cy="353.0" rx="0.6" ry="0.6" transform="rotate(79 422.0 353.0)"/><ellipse cx="356.2" cy="378.7" rx="1.0" ry="1.0" transform="rotate(48 356.2 378.7)"/><ellipse cx="390.5" cy="351.0" rx="0.6" ry="0.6" transform="rotate(88 390.5 351.0)"/><ellipse cx="385.5" cy="398.2" rx="0.7" ry="0.5" transform="rotate(39 385.5 398.2)"/><ellipse cx="387.9" cy="395.0" rx="0.7" ry="0.6" transform="rotate(16 387.9 395.0)"/><ellipse cx="363.8" cy="347.6" rx="0.7" ry="0.5" transform="rotate(54 363.8 347.6)"/><ellipse cx="420.8" cy="387.3" rx="0.7" ry="0.7" transform="rotate(31 420.8 387.3)"/><ellipse cx="358.3" cy="355.6" rx="0.7" ry="0.6" transform="rotate(12 358.3 355.6)"/><ellipse cx="359.9" cy="394.3" rx="0.9" ry="0.9" transform="rotate(0 359.9 394.3)"/><ellipse cx="415.9" cy="386.5" rx="1.6" ry="1.5" transform="rotate(56 415.9 386.5)"/><ellipse cx="364.8" cy="388.8" rx="1.7" ry="1.0" transform="rotate(6 364.8 388.8)"/><ellipse cx="402.7" cy="360.2" rx="1.8" ry="1.5" transform="rotate(16 402.7 360.2)"/><ellipse cx="376.8" cy="362.8" rx="0.6" ry="0.6" transform="rotate(41 376.8 362.8)"/><ellipse cx="374.4" cy="346.3" rx="1.7" ry="1.5" transform="rotate(3 374.4 346.3)"/><ellipse cx="363.3" cy="407.9" rx="1.8" ry="1.6" transform="rotate(33 363.3 407.9)"/><ellipse cx="419.5" cy="383.6" rx="0.7" ry="0.6" transform="rotate(46 419.5 383.6)"/><ellipse cx="368.7" cy="366.4" rx="0.6" ry="0.6" transform="rotate(20 368.7 366.4)"/><ellipse cx="404.4" cy="348.5" rx="1.1" ry="0.8" transform="rotate(90 404.4 348.5)"/><ellipse cx="364.8" cy="394.0" rx="0.9" ry="0.8" transform="rotate(42 364.8 394.0)"/><ellipse cx="376.6" cy="404.2" rx="1.0" ry="0.8" transform="rotate(56 376.6 404.2)"/><ellipse cx="358.3" cy="387.4" rx="0.6" ry="0.6" transform="rotate(62 358.3 387.4)"/><ellipse cx="395.5" cy="349.0" rx="1.8" ry="1.5" transform="rotate(6 395.5 349.0)"/><ellipse cx="369.1" cy="342.1" rx="2.1" ry="1.5" transform="rotate(90 369.1 342.1)"/><ellipse cx="415.0" cy="368.7" rx="0.7" ry="0.5" transform="rotate(25 415.0 368.7)"/><ellipse cx="375.6" cy="377.1" rx="1.7" ry="1.8" transform="rotate(46 375.6 377.1)"/><ellipse cx="378.9" cy="358.9" rx="2.3" ry="2.6" transform="rotate(7 378.9 358.9)"/><ellipse cx="397.0" cy="369.3" rx="0.6" ry="0.7" transform="rotate(62 397.0 369.3)"/><ellipse cx="380.9" cy="348.4" rx="0.9" ry="0.9" transform="rotate(36 380.9 348.4)"/><ellipse cx="416.2" cy="355.6" rx="1.7" ry="1.4" transform="rotate(87 416.2 355.6)"/><ellipse cx="387.0" cy="378.3" rx="0.6" ry="0.4" transform="rotate(88 387.0 378.3)"/><ellipse cx="355.7" cy="376.8" rx="1.2" ry="0.9" transform="rotate(49 355.7 376.8)"/><ellipse cx="356.5" cy="388.1" rx="1.3" ry="1.2" transform="rotate(64 356.5 388.1)"/><ellipse cx="387.4" cy="389.8" rx="0.9" ry="1.1" transform="rotate(74 387.4 389.8)"/><ellipse cx="417.8" cy="389.1" rx="1.4" ry="1.3" transform="rotate(53 417.8 389.1)"/><ellipse cx="379.7" cy="382.4" rx="1.4" ry="1.3" transform="rotate(36 379.7 382.4)"/><ellipse cx="374.5" cy="343.9" rx="1.7" ry="1.6" transform="rotate(52 374.5 343.9)"/><ellipse cx="375.9" cy="405.2" rx="0.7" ry="0.8" transform="rotate(9 375.9 405.2)"/><ellipse cx="357.6" cy="348.0" rx="2.3" ry="1.8" transform="rotate(44 357.6 348.0)"/><ellipse cx="401.8" cy="399.0" rx="1.6" ry="1.5" transform="rotate(26 401.8 399.0)"/><ellipse cx="387.8" cy="348.3" rx="0.6" ry="0.5" transform="rotate(69 387.8 348.3)"/><ellipse cx="383.8" cy="407.9" rx="1.4" ry="1.2" transform="rotate(83 383.8 407.9)"/><ellipse cx="390.9" cy="356.1" rx="1.4" ry="1.1" transform="rotate(41 390.9 356.1)"/><ellipse cx="362.4" cy="388.8" rx="1.2" ry="1.2" transform="rotate(47 362.4 388.8)"/><ellipse cx="371.9" cy="348.8" rx="0.8" ry="0.8" transform="rotate(79 371.9 348.8)"/><ellipse cx="360.3" cy="406.6" rx="0.6" ry="0.5" transform="rotate(23 360.3 406.6)"/><ellipse cx="370.3" cy="346.3" rx="1.2" ry="1.3" transform="rotate(69 370.3 346.3)"/><ellipse cx="404.5" cy="370.3" rx="0.9" ry="0.8" transform="rotate(31 404.5 370.3)"/><ellipse cx="375.6" cy="361.1" rx="1.3" ry="1.5" transform="rotate(23 375.6 361.1)"/><ellipse cx="383.7" cy="352.1" rx="0.8" ry="0.7" transform="rotate(72 383.7 352.1)"/><ellipse cx="367.5" cy="354.9" rx="1.2" ry="1.2" transform="rotate(88 367.5 354.9)"/><ellipse cx="377.4" cy="347.2" rx="2.2" ry="1.5" transform="rotate(66 377.4 347.2)"/><ellipse cx="420.1" cy="363.7" rx="1.9" ry="1.9" transform="rotate(29 420.1 363.7)"/><ellipse cx="415.8" cy="383.8" rx="1.7" ry="1.9" transform="rotate(0 415.8 383.8)"/><ellipse cx="368.2" cy="352.7" rx="0.6" ry="0.4" transform="rotate(78 368.2 352.7)"/><ellipse cx="406.7" cy="381.1" rx="1.0" ry="0.8" transform="rotate(23 406.7 381.1)"/><ellipse cx="403.5" cy="404.8" rx="2.2" ry="2.2" transform="rotate(13 403.5 404.8)"/><ellipse cx="379.8" cy="397.4" rx="0.7" ry="0.5" transform="rotate(22 379.8 397.4)"/><ellipse cx="386.2" cy="388.3" rx="1.6" ry="1.0" transform="rotate(51 386.2 388.3)"/><ellipse cx="419.0" cy="373.7" rx="0.6" ry="0.7" transform="rotate(47 419.0 373.7)"/><ellipse cx="364.0" cy="342.2" rx="0.9" ry="0.7" transform="rotate(9 364.0 342.2)"/><ellipse cx="388.4" cy="405.8" rx="1.5" ry="0.9" transform="rotate(61 388.4 405.8)"/><ellipse cx="422.9" cy="393.1" rx="0.7" ry="0.5" transform="rotate(18 422.9 393.1)"/><ellipse cx="374.8" cy="375.9" rx="1.5" ry="1.6" transform="rotate(73 374.8 375.9)"/><ellipse cx="362.5" cy="369.8" rx="2.2" ry="1.4" transform="rotate(55 362.5 369.8)"/><ellipse cx="358.4" cy="370.6" rx="0.7" ry="0.7" transform="rotate(9 358.4 370.6)"/><ellipse cx="364.9" cy="407.8" rx="1.2" ry="1.0" transform="rotate(23 364.9 407.8)"/><ellipse cx="391.8" cy="368.3" rx="2.2" ry="1.4" transform="rotate(45 391.8 368.3)"/><ellipse cx="363.8" cy="347.7" rx="1.8" ry="1.2" transform="rotate(2 363.8 347.7)"/><ellipse cx="356.4" cy="380.2" rx="2.2" ry="2.5" transform="rotate(10 356.4 380.2)"/><ellipse cx="358.6" cy="356.9" rx="2.3" ry="2.0" transform="rotate(60 358.6 356.9)"/><ellipse cx="390.3" cy="407.0" rx="1.2" ry="1.4" transform="rotate(60 390.3 407.0)"/><ellipse cx="389.5" cy="345.6" rx="0.9" ry="0.9" transform="rotate(55 389.5 345.6)"/><ellipse cx="413.5" cy="405.9" rx="1.4" ry="1.3" transform="rotate(75 413.5 405.9)"/><ellipse cx="357.5" cy="343.6" rx="1.7" ry="1.4" transform="rotate(55 357.5 343.6)"/><ellipse cx="417.2" cy="367.7" rx="2.4" ry="2.5" transform="rotate(43 417.2 367.7)"/><ellipse cx="365.1" cy="395.1" rx="0.9" ry="1.1" transform="rotate(47 365.1 395.1)"/><ellipse cx="369.7" cy="370.7" rx="0.7" ry="0.6" transform="rotate(36 369.7 370.7)"/><ellipse cx="355.2" cy="385.1" rx="1.7" ry="1.8" transform="rotate(9 355.2 385.1)"/><ellipse cx="360.0" cy="367.9" rx="2.0" ry="2.3" transform="rotate(25 360.0 367.9)"/><ellipse cx="399.1" cy="392.8" rx="1.0" ry="0.8" transform="rotate(58 399.1 392.8)"/><ellipse cx="364.3" cy="358.1" rx="2.1" ry="2.5" transform="rotate(3 364.3 358.1)"/><ellipse cx="356.0" cy="397.2" rx="0.6" ry="0.4" transform="rotate(83 356.0 397.2)"/><ellipse cx="380.4" cy="394.7" rx="0.6" ry="0.6" transform="rotate(89 380.4 394.7)"/><ellipse cx="392.9" cy="361.3" rx="0.6" ry="0.5" transform="rotate(38 392.9 361.3)"/><ellipse cx="380.1" cy="374.5" rx="1.2" ry="1.4" transform="rotate(30 380.1 374.5)"/><ellipse cx="420.6" cy="351.6" rx="0.6" ry="0.4" transform="rotate(49 420.6 351.6)"/><ellipse cx="364.1" cy="374.7" rx="1.5" ry="0.9" transform="rotate(27 364.1 374.7)"/><ellipse cx="383.5" cy="376.3" rx="1.3" ry="1.4" transform="rotate(7 383.5 376.3)"/></g>
</g>
</g>
<rect x="353.4" y="338.8" width="71.2" height="72.2" fill="none" stroke="#4a4a55" stroke-width=".7"/></g>
</g>
<g id="panelN">
<text class="pl" x="427.8" y="329.4">N</text>
<path d="M466.2,345.2 V398.8 H511" class="ax" stroke-width=".9"/>
<text class="t7" x="462.2" y="348.6" text-anchor="end">50</text>
<path d="M463,345.8 h3.2" class="ax" stroke-width=".7"/>
<text class="t7" x="462.2" y="359.2" text-anchor="end">40</text>
<path d="M463,356.4 h3.2" class="ax" stroke-width=".7"/>
<text class="t7" x="462.2" y="369.8" text-anchor="end">30</text>
<path d="M463,367 h3.2" class="ax" stroke-width=".7"/>
<text class="t7" x="462.2" y="380.40000000000003" text-anchor="end">20</text>
<path d="M463,377.6 h3.2" class="ax" stroke-width=".7"/>
<text class="t7" x="462.2" y="391.0" text-anchor="end">10</text>
<path d="M463,388.2 h3.2" class="ax" stroke-width=".7"/>
<text class="t7" x="462.2" y="401.6" text-anchor="end">0</text>
<path d="M463,398.8 h3.2" class="ax" stroke-width=".7"/>
<text class="t65" transform="translate(442.2,373) rotate(-90)" text-anchor="middle">FAP- <tspan class="it">H</tspan> score</text>
<text class="t65" transform="translate(449.9,373) rotate(-90)" text-anchor="middle">/FOV</text>
<text class="t65" x="485.7" y="340.7" text-anchor="middle"><tspan class="it">P</tspan> = 0.03</text>
<path d="M474.6,350 V344.3 H501.5 V350" class="ax" stroke-width=".8"/>
<path d="M471,380.9 h14.7 M478.7,378 v6.3" stroke="#9aa4e4" stroke-width=".55" fill="none"/>
<path d="M494.2,366.2 h13.6 M501,361.1 v11" stroke="#f08a8a" stroke-width=".55" fill="none"/>
<circle cx="478.4" cy="367.4" r="1.55" fill="#1a2aa8"/>
<circle cx="478.6" cy="378" r="1.55" fill="#1a2aa8"/>
<circle cx="473.2" cy="383.6" r="1.55" fill="#1a2aa8"/>
<circle cx="478.6" cy="383.2" r="1.55" fill="#1a2aa8"/>
<circle cx="483.8" cy="383.6" r="1.55" fill="#1a2aa8"/>
<circle cx="478.8" cy="388.5" r="1.55" fill="#1a2aa8"/>
<rect x="499.60" y="348.60" width="2.8" height="2.8" fill="#e8202a"/>
<rect x="499.60" y="354.90" width="2.8" height="2.8" fill="#e8202a"/>
<rect x="499.60" y="364.80" width="2.8" height="2.8" fill="#e8202a"/>
<rect x="499.60" y="370.20" width="2.8" height="2.8" fill="#e8202a"/>
<rect x="496.90" y="376.60" width="2.8" height="2.8" fill="#e8202a"/>
<rect x="502.30" y="376.60" width="2.8" height="2.8" fill="#e8202a"/>
<path d="M478,398.8 v1.8 M501.5,398.8 v1.8" class="ax" stroke-width=".7"/>
<text class="t65" x="478" y="408" text-anchor="middle">Ctrl</text>
<text class="t65" x="501.5" y="408" text-anchor="middle">Dll1-</text>
<text class="t65" x="501.3" y="416.4" text-anchor="middle">OE</text>
</g>
</svg></body></html>
